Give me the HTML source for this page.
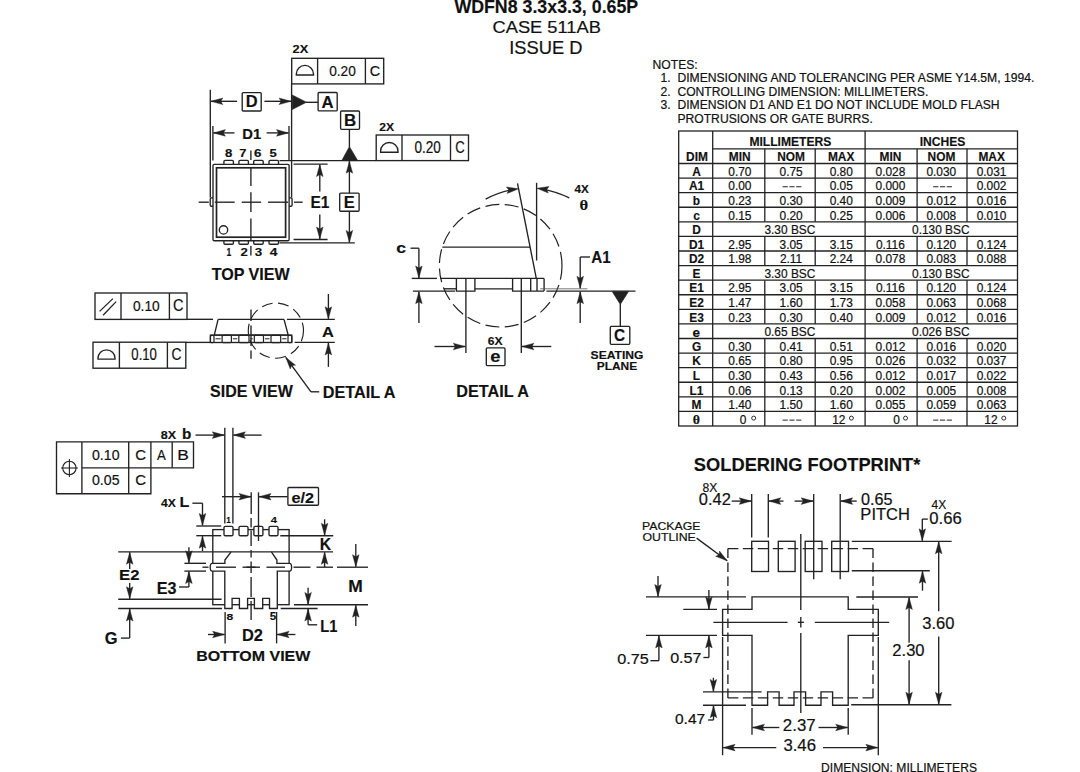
<!DOCTYPE html>
<html><head><meta charset="utf-8"><style>
html,body{margin:0;padding:0;background:#fff;width:1080px;height:772px;overflow:hidden;}
svg{display:block;}
</style></head><body>
<svg width="1080" height="772" viewBox="0 0 1080 772">
<text x="546.30" y="12.60" font-family="Liberation Sans, sans-serif" font-size="17.8" font-weight="bold" text-anchor="middle" fill="#111" stroke="#111" stroke-width="0.15">WDFN8 3.3x3.3, 0.65P</text>
<text x="492.49" y="33.43" font-family="Liberation Sans, sans-serif" font-size="17.18" text-anchor="start" fill="#111" stroke="#111" stroke-width="0.2" textLength="108.41" lengthAdjust="spacingAndGlyphs">CASE 511AB</text>
<text x="509.25" y="54.42" font-family="Liberation Sans, sans-serif" font-size="18.03" text-anchor="start" fill="#111" stroke="#111" stroke-width="0.2" textLength="73.19" lengthAdjust="spacingAndGlyphs">ISSUE D</text>
<text x="652.50" y="68.90" font-family="Liberation Sans, sans-serif" font-size="12.15" text-anchor="start" fill="#111" stroke="#111" stroke-width="0.2">NOTES:</text>
<text x="660.50" y="82.20" font-family="Liberation Sans, sans-serif" font-size="12.15" text-anchor="start" fill="#111" stroke="#111" stroke-width="0.2">1.</text>
<text x="677.40" y="82.20" font-family="Liberation Sans, sans-serif" font-size="12.15" text-anchor="start" fill="#111" stroke="#111" stroke-width="0.2">DIMENSIONING AND TOLERANCING PER ASME Y14.5M, 1994.</text>
<text x="660.50" y="95.70" font-family="Liberation Sans, sans-serif" font-size="12.15" text-anchor="start" fill="#111" stroke="#111" stroke-width="0.2">2.</text>
<text x="677.40" y="95.70" font-family="Liberation Sans, sans-serif" font-size="12.15" text-anchor="start" fill="#111" stroke="#111" stroke-width="0.2">CONTROLLING DIMENSION: MILLIMETERS.</text>
<text x="660.50" y="109.10" font-family="Liberation Sans, sans-serif" font-size="12.15" text-anchor="start" fill="#111" stroke="#111" stroke-width="0.2">3.</text>
<text x="677.40" y="109.10" font-family="Liberation Sans, sans-serif" font-size="12.15" text-anchor="start" fill="#111" stroke="#111" stroke-width="0.2">DIMENSION D1 AND E1 DO NOT INCLUDE MOLD FLASH</text>
<text x="677.40" y="122.50" font-family="Liberation Sans, sans-serif" font-size="12.15" text-anchor="start" fill="#111" stroke="#111" stroke-width="0.2">PROTRUSIONS OR GATE BURRS.</text>
<rect x="678.70" y="131.00" width="338.80" height="295.00" fill="none" stroke="#222" stroke-width="1.3"/>
<line x1="712.70" y1="131.00" x2="712.70" y2="426.00" stroke="#222" stroke-width="1.3"/>
<line x1="865.10" y1="131.00" x2="865.10" y2="426.00" stroke="#222" stroke-width="1.3"/>
<line x1="712.70" y1="148.80" x2="1017.50" y2="148.80" stroke="#222" stroke-width="1.3"/>
<line x1="678.70" y1="163.50" x2="1017.50" y2="163.50" stroke="#222" stroke-width="1.3"/>
<text x="790.40" y="146.30" font-family="Liberation Sans, sans-serif" font-size="12.1" font-weight="bold" text-anchor="middle" fill="#111" stroke="#111" stroke-width="0.15">MILLIMETERS</text>
<text x="942.50" y="146.30" font-family="Liberation Sans, sans-serif" font-size="12.1" font-weight="bold" text-anchor="middle" fill="#111" stroke="#111" stroke-width="0.15">INCHES</text>
<text x="697.00" y="160.80" font-family="Liberation Sans, sans-serif" font-size="11.9" font-weight="bold" text-anchor="middle" fill="#111" stroke="#111" stroke-width="0.15">DIM</text>
<text x="739.75" y="160.80" font-family="Liberation Sans, sans-serif" font-size="11.9" font-weight="bold" text-anchor="middle" fill="#111" stroke="#111" stroke-width="0.15">MIN</text>
<text x="791.00" y="160.80" font-family="Liberation Sans, sans-serif" font-size="11.9" font-weight="bold" text-anchor="middle" fill="#111" stroke="#111" stroke-width="0.15">NOM</text>
<text x="841.15" y="160.80" font-family="Liberation Sans, sans-serif" font-size="11.9" font-weight="bold" text-anchor="middle" fill="#111" stroke="#111" stroke-width="0.15">MAX</text>
<text x="890.50" y="160.80" font-family="Liberation Sans, sans-serif" font-size="11.9" font-weight="bold" text-anchor="middle" fill="#111" stroke="#111" stroke-width="0.15">MIN</text>
<text x="941.45" y="160.80" font-family="Liberation Sans, sans-serif" font-size="11.9" font-weight="bold" text-anchor="middle" fill="#111" stroke="#111" stroke-width="0.15">NOM</text>
<text x="991.65" y="160.80" font-family="Liberation Sans, sans-serif" font-size="11.9" font-weight="bold" text-anchor="middle" fill="#111" stroke="#111" stroke-width="0.15">MAX</text>
<line x1="764.80" y1="148.80" x2="764.80" y2="163.50" stroke="#222" stroke-width="1.3"/>
<line x1="815.20" y1="148.80" x2="815.20" y2="163.50" stroke="#222" stroke-width="1.3"/>
<line x1="917.10" y1="148.80" x2="917.10" y2="163.50" stroke="#222" stroke-width="1.3"/>
<line x1="967.00" y1="148.80" x2="967.00" y2="163.50" stroke="#222" stroke-width="1.3"/>
<line x1="678.70" y1="178.08" x2="1017.50" y2="178.08" stroke="#222" stroke-width="1.3"/>
<text x="696.50" y="175.80" font-family="Liberation Sans, sans-serif" font-size="11.9" font-weight="bold" text-anchor="middle" fill="#111" stroke="#111" stroke-width="0.15">A</text>
<line x1="764.80" y1="163.50" x2="764.80" y2="178.08" stroke="#222" stroke-width="1.3"/>
<line x1="815.20" y1="163.50" x2="815.20" y2="178.08" stroke="#222" stroke-width="1.3"/>
<line x1="917.10" y1="163.50" x2="917.10" y2="178.08" stroke="#222" stroke-width="1.3"/>
<line x1="967.00" y1="163.50" x2="967.00" y2="178.08" stroke="#222" stroke-width="1.3"/>
<text x="739.85" y="175.80" font-family="Liberation Sans, sans-serif" font-size="11.9" text-anchor="middle" fill="#111" stroke="#111" stroke-width="0.2">0.70</text>
<text x="791.10" y="175.80" font-family="Liberation Sans, sans-serif" font-size="11.9" text-anchor="middle" fill="#111" stroke="#111" stroke-width="0.2">0.75</text>
<text x="841.25" y="175.80" font-family="Liberation Sans, sans-serif" font-size="11.9" text-anchor="middle" fill="#111" stroke="#111" stroke-width="0.2">0.80</text>
<text x="890.40" y="175.80" font-family="Liberation Sans, sans-serif" font-size="11.9" text-anchor="middle" fill="#111" stroke="#111" stroke-width="0.2">0.028</text>
<text x="941.35" y="175.80" font-family="Liberation Sans, sans-serif" font-size="11.9" text-anchor="middle" fill="#111" stroke="#111" stroke-width="0.2">0.030</text>
<text x="991.55" y="175.80" font-family="Liberation Sans, sans-serif" font-size="11.9" text-anchor="middle" fill="#111" stroke="#111" stroke-width="0.2">0.031</text>
<line x1="678.70" y1="192.67" x2="1017.50" y2="192.67" stroke="#222" stroke-width="1.3"/>
<text x="696.50" y="190.38" font-family="Liberation Sans, sans-serif" font-size="11.9" font-weight="bold" text-anchor="middle" fill="#111" stroke="#111" stroke-width="0.15">A1</text>
<line x1="764.80" y1="178.08" x2="764.80" y2="192.67" stroke="#222" stroke-width="1.3"/>
<line x1="815.20" y1="178.08" x2="815.20" y2="192.67" stroke="#222" stroke-width="1.3"/>
<line x1="917.10" y1="178.08" x2="917.10" y2="192.67" stroke="#222" stroke-width="1.3"/>
<line x1="967.00" y1="178.08" x2="967.00" y2="192.67" stroke="#222" stroke-width="1.3"/>
<text x="739.85" y="190.38" font-family="Liberation Sans, sans-serif" font-size="11.9" text-anchor="middle" fill="#111" stroke="#111" stroke-width="0.2">0.00</text>
<line x1="782.60" y1="186.78" x2="787.80" y2="186.78" stroke="#222" stroke-width="1.0"/>
<line x1="789.40" y1="186.78" x2="794.60" y2="186.78" stroke="#222" stroke-width="1.0"/>
<line x1="796.20" y1="186.78" x2="801.40" y2="186.78" stroke="#222" stroke-width="1.0"/>
<text x="841.25" y="190.38" font-family="Liberation Sans, sans-serif" font-size="11.9" text-anchor="middle" fill="#111" stroke="#111" stroke-width="0.2">0.05</text>
<text x="890.40" y="190.38" font-family="Liberation Sans, sans-serif" font-size="11.9" text-anchor="middle" fill="#111" stroke="#111" stroke-width="0.2">0.000</text>
<line x1="933.15" y1="186.78" x2="938.35" y2="186.78" stroke="#222" stroke-width="1.0"/>
<line x1="939.95" y1="186.78" x2="945.15" y2="186.78" stroke="#222" stroke-width="1.0"/>
<line x1="946.75" y1="186.78" x2="951.95" y2="186.78" stroke="#222" stroke-width="1.0"/>
<text x="991.55" y="190.38" font-family="Liberation Sans, sans-serif" font-size="11.9" text-anchor="middle" fill="#111" stroke="#111" stroke-width="0.2">0.002</text>
<line x1="678.70" y1="207.25" x2="1017.50" y2="207.25" stroke="#222" stroke-width="1.3"/>
<text x="696.50" y="204.97" font-family="Liberation Sans, sans-serif" font-size="11.9" font-weight="bold" text-anchor="middle" fill="#111" stroke="#111" stroke-width="0.15">b</text>
<line x1="764.80" y1="192.67" x2="764.80" y2="207.25" stroke="#222" stroke-width="1.3"/>
<line x1="815.20" y1="192.67" x2="815.20" y2="207.25" stroke="#222" stroke-width="1.3"/>
<line x1="917.10" y1="192.67" x2="917.10" y2="207.25" stroke="#222" stroke-width="1.3"/>
<line x1="967.00" y1="192.67" x2="967.00" y2="207.25" stroke="#222" stroke-width="1.3"/>
<text x="739.85" y="204.97" font-family="Liberation Sans, sans-serif" font-size="11.9" text-anchor="middle" fill="#111" stroke="#111" stroke-width="0.2">0.23</text>
<text x="791.10" y="204.97" font-family="Liberation Sans, sans-serif" font-size="11.9" text-anchor="middle" fill="#111" stroke="#111" stroke-width="0.2">0.30</text>
<text x="841.25" y="204.97" font-family="Liberation Sans, sans-serif" font-size="11.9" text-anchor="middle" fill="#111" stroke="#111" stroke-width="0.2">0.40</text>
<text x="890.40" y="204.97" font-family="Liberation Sans, sans-serif" font-size="11.9" text-anchor="middle" fill="#111" stroke="#111" stroke-width="0.2">0.009</text>
<text x="941.35" y="204.97" font-family="Liberation Sans, sans-serif" font-size="11.9" text-anchor="middle" fill="#111" stroke="#111" stroke-width="0.2">0.012</text>
<text x="991.55" y="204.97" font-family="Liberation Sans, sans-serif" font-size="11.9" text-anchor="middle" fill="#111" stroke="#111" stroke-width="0.2">0.016</text>
<line x1="678.70" y1="221.83" x2="1017.50" y2="221.83" stroke="#222" stroke-width="1.3"/>
<text x="696.50" y="219.55" font-family="Liberation Sans, sans-serif" font-size="11.9" font-weight="bold" text-anchor="middle" fill="#111" stroke="#111" stroke-width="0.15">c</text>
<line x1="764.80" y1="207.25" x2="764.80" y2="221.83" stroke="#222" stroke-width="1.3"/>
<line x1="815.20" y1="207.25" x2="815.20" y2="221.83" stroke="#222" stroke-width="1.3"/>
<line x1="917.10" y1="207.25" x2="917.10" y2="221.83" stroke="#222" stroke-width="1.3"/>
<line x1="967.00" y1="207.25" x2="967.00" y2="221.83" stroke="#222" stroke-width="1.3"/>
<text x="739.85" y="219.55" font-family="Liberation Sans, sans-serif" font-size="11.9" text-anchor="middle" fill="#111" stroke="#111" stroke-width="0.2">0.15</text>
<text x="791.10" y="219.55" font-family="Liberation Sans, sans-serif" font-size="11.9" text-anchor="middle" fill="#111" stroke="#111" stroke-width="0.2">0.20</text>
<text x="841.25" y="219.55" font-family="Liberation Sans, sans-serif" font-size="11.9" text-anchor="middle" fill="#111" stroke="#111" stroke-width="0.2">0.25</text>
<text x="890.40" y="219.55" font-family="Liberation Sans, sans-serif" font-size="11.9" text-anchor="middle" fill="#111" stroke="#111" stroke-width="0.2">0.006</text>
<text x="941.35" y="219.55" font-family="Liberation Sans, sans-serif" font-size="11.9" text-anchor="middle" fill="#111" stroke="#111" stroke-width="0.2">0.008</text>
<text x="991.55" y="219.55" font-family="Liberation Sans, sans-serif" font-size="11.9" text-anchor="middle" fill="#111" stroke="#111" stroke-width="0.2">0.010</text>
<line x1="678.70" y1="236.42" x2="1017.50" y2="236.42" stroke="#222" stroke-width="1.3"/>
<text x="696.50" y="234.13" font-family="Liberation Sans, sans-serif" font-size="11.9" font-weight="bold" text-anchor="middle" fill="#111" stroke="#111" stroke-width="0.15">D</text>
<text x="789.90" y="234.13" font-family="Liberation Sans, sans-serif" font-size="11.9" text-anchor="middle" fill="#111" stroke="#111" stroke-width="0.2">3.30 BSC</text>
<text x="940.80" y="234.13" font-family="Liberation Sans, sans-serif" font-size="11.9" text-anchor="middle" fill="#111" stroke="#111" stroke-width="0.2">0.130 BSC</text>
<line x1="678.70" y1="251.00" x2="1017.50" y2="251.00" stroke="#222" stroke-width="1.3"/>
<text x="696.50" y="248.72" font-family="Liberation Sans, sans-serif" font-size="11.9" font-weight="bold" text-anchor="middle" fill="#111" stroke="#111" stroke-width="0.15">D1</text>
<line x1="764.80" y1="236.42" x2="764.80" y2="251.00" stroke="#222" stroke-width="1.3"/>
<line x1="815.20" y1="236.42" x2="815.20" y2="251.00" stroke="#222" stroke-width="1.3"/>
<line x1="917.10" y1="236.42" x2="917.10" y2="251.00" stroke="#222" stroke-width="1.3"/>
<line x1="967.00" y1="236.42" x2="967.00" y2="251.00" stroke="#222" stroke-width="1.3"/>
<text x="739.85" y="248.72" font-family="Liberation Sans, sans-serif" font-size="11.9" text-anchor="middle" fill="#111" stroke="#111" stroke-width="0.2">2.95</text>
<text x="791.10" y="248.72" font-family="Liberation Sans, sans-serif" font-size="11.9" text-anchor="middle" fill="#111" stroke="#111" stroke-width="0.2">3.05</text>
<text x="841.25" y="248.72" font-family="Liberation Sans, sans-serif" font-size="11.9" text-anchor="middle" fill="#111" stroke="#111" stroke-width="0.2">3.15</text>
<text x="890.40" y="248.72" font-family="Liberation Sans, sans-serif" font-size="11.9" text-anchor="middle" fill="#111" stroke="#111" stroke-width="0.2">0.116</text>
<text x="941.35" y="248.72" font-family="Liberation Sans, sans-serif" font-size="11.9" text-anchor="middle" fill="#111" stroke="#111" stroke-width="0.2">0.120</text>
<text x="991.55" y="248.72" font-family="Liberation Sans, sans-serif" font-size="11.9" text-anchor="middle" fill="#111" stroke="#111" stroke-width="0.2">0.124</text>
<line x1="678.70" y1="265.58" x2="1017.50" y2="265.58" stroke="#222" stroke-width="1.3"/>
<text x="696.50" y="263.30" font-family="Liberation Sans, sans-serif" font-size="11.9" font-weight="bold" text-anchor="middle" fill="#111" stroke="#111" stroke-width="0.15">D2</text>
<line x1="764.80" y1="251.00" x2="764.80" y2="265.58" stroke="#222" stroke-width="1.3"/>
<line x1="815.20" y1="251.00" x2="815.20" y2="265.58" stroke="#222" stroke-width="1.3"/>
<line x1="917.10" y1="251.00" x2="917.10" y2="265.58" stroke="#222" stroke-width="1.3"/>
<line x1="967.00" y1="251.00" x2="967.00" y2="265.58" stroke="#222" stroke-width="1.3"/>
<text x="739.85" y="263.30" font-family="Liberation Sans, sans-serif" font-size="11.9" text-anchor="middle" fill="#111" stroke="#111" stroke-width="0.2">1.98</text>
<text x="791.10" y="263.30" font-family="Liberation Sans, sans-serif" font-size="11.9" text-anchor="middle" fill="#111" stroke="#111" stroke-width="0.2">2.11</text>
<text x="841.25" y="263.30" font-family="Liberation Sans, sans-serif" font-size="11.9" text-anchor="middle" fill="#111" stroke="#111" stroke-width="0.2">2.24</text>
<text x="890.40" y="263.30" font-family="Liberation Sans, sans-serif" font-size="11.9" text-anchor="middle" fill="#111" stroke="#111" stroke-width="0.2">0.078</text>
<text x="941.35" y="263.30" font-family="Liberation Sans, sans-serif" font-size="11.9" text-anchor="middle" fill="#111" stroke="#111" stroke-width="0.2">0.083</text>
<text x="991.55" y="263.30" font-family="Liberation Sans, sans-serif" font-size="11.9" text-anchor="middle" fill="#111" stroke="#111" stroke-width="0.2">0.088</text>
<line x1="678.70" y1="280.17" x2="1017.50" y2="280.17" stroke="#222" stroke-width="1.3"/>
<text x="696.50" y="277.88" font-family="Liberation Sans, sans-serif" font-size="11.9" font-weight="bold" text-anchor="middle" fill="#111" stroke="#111" stroke-width="0.15">E</text>
<text x="789.90" y="277.88" font-family="Liberation Sans, sans-serif" font-size="11.9" text-anchor="middle" fill="#111" stroke="#111" stroke-width="0.2">3.30 BSC</text>
<text x="940.80" y="277.88" font-family="Liberation Sans, sans-serif" font-size="11.9" text-anchor="middle" fill="#111" stroke="#111" stroke-width="0.2">0.130 BSC</text>
<line x1="678.70" y1="294.75" x2="1017.50" y2="294.75" stroke="#222" stroke-width="1.3"/>
<text x="696.50" y="292.47" font-family="Liberation Sans, sans-serif" font-size="11.9" font-weight="bold" text-anchor="middle" fill="#111" stroke="#111" stroke-width="0.15">E1</text>
<line x1="764.80" y1="280.17" x2="764.80" y2="294.75" stroke="#222" stroke-width="1.3"/>
<line x1="815.20" y1="280.17" x2="815.20" y2="294.75" stroke="#222" stroke-width="1.3"/>
<line x1="917.10" y1="280.17" x2="917.10" y2="294.75" stroke="#222" stroke-width="1.3"/>
<line x1="967.00" y1="280.17" x2="967.00" y2="294.75" stroke="#222" stroke-width="1.3"/>
<text x="739.85" y="292.47" font-family="Liberation Sans, sans-serif" font-size="11.9" text-anchor="middle" fill="#111" stroke="#111" stroke-width="0.2">2.95</text>
<text x="791.10" y="292.47" font-family="Liberation Sans, sans-serif" font-size="11.9" text-anchor="middle" fill="#111" stroke="#111" stroke-width="0.2">3.05</text>
<text x="841.25" y="292.47" font-family="Liberation Sans, sans-serif" font-size="11.9" text-anchor="middle" fill="#111" stroke="#111" stroke-width="0.2">3.15</text>
<text x="890.40" y="292.47" font-family="Liberation Sans, sans-serif" font-size="11.9" text-anchor="middle" fill="#111" stroke="#111" stroke-width="0.2">0.116</text>
<text x="941.35" y="292.47" font-family="Liberation Sans, sans-serif" font-size="11.9" text-anchor="middle" fill="#111" stroke="#111" stroke-width="0.2">0.120</text>
<text x="991.55" y="292.47" font-family="Liberation Sans, sans-serif" font-size="11.9" text-anchor="middle" fill="#111" stroke="#111" stroke-width="0.2">0.124</text>
<line x1="678.70" y1="309.33" x2="1017.50" y2="309.33" stroke="#222" stroke-width="1.3"/>
<text x="696.50" y="307.05" font-family="Liberation Sans, sans-serif" font-size="11.9" font-weight="bold" text-anchor="middle" fill="#111" stroke="#111" stroke-width="0.15">E2</text>
<line x1="764.80" y1="294.75" x2="764.80" y2="309.33" stroke="#222" stroke-width="1.3"/>
<line x1="815.20" y1="294.75" x2="815.20" y2="309.33" stroke="#222" stroke-width="1.3"/>
<line x1="917.10" y1="294.75" x2="917.10" y2="309.33" stroke="#222" stroke-width="1.3"/>
<line x1="967.00" y1="294.75" x2="967.00" y2="309.33" stroke="#222" stroke-width="1.3"/>
<text x="739.85" y="307.05" font-family="Liberation Sans, sans-serif" font-size="11.9" text-anchor="middle" fill="#111" stroke="#111" stroke-width="0.2">1.47</text>
<text x="791.10" y="307.05" font-family="Liberation Sans, sans-serif" font-size="11.9" text-anchor="middle" fill="#111" stroke="#111" stroke-width="0.2">1.60</text>
<text x="841.25" y="307.05" font-family="Liberation Sans, sans-serif" font-size="11.9" text-anchor="middle" fill="#111" stroke="#111" stroke-width="0.2">1.73</text>
<text x="890.40" y="307.05" font-family="Liberation Sans, sans-serif" font-size="11.9" text-anchor="middle" fill="#111" stroke="#111" stroke-width="0.2">0.058</text>
<text x="941.35" y="307.05" font-family="Liberation Sans, sans-serif" font-size="11.9" text-anchor="middle" fill="#111" stroke="#111" stroke-width="0.2">0.063</text>
<text x="991.55" y="307.05" font-family="Liberation Sans, sans-serif" font-size="11.9" text-anchor="middle" fill="#111" stroke="#111" stroke-width="0.2">0.068</text>
<line x1="678.70" y1="323.92" x2="1017.50" y2="323.92" stroke="#222" stroke-width="1.3"/>
<text x="696.50" y="321.63" font-family="Liberation Sans, sans-serif" font-size="11.9" font-weight="bold" text-anchor="middle" fill="#111" stroke="#111" stroke-width="0.15">E3</text>
<line x1="764.80" y1="309.33" x2="764.80" y2="323.92" stroke="#222" stroke-width="1.3"/>
<line x1="815.20" y1="309.33" x2="815.20" y2="323.92" stroke="#222" stroke-width="1.3"/>
<line x1="917.10" y1="309.33" x2="917.10" y2="323.92" stroke="#222" stroke-width="1.3"/>
<line x1="967.00" y1="309.33" x2="967.00" y2="323.92" stroke="#222" stroke-width="1.3"/>
<text x="739.85" y="321.63" font-family="Liberation Sans, sans-serif" font-size="11.9" text-anchor="middle" fill="#111" stroke="#111" stroke-width="0.2">0.23</text>
<text x="791.10" y="321.63" font-family="Liberation Sans, sans-serif" font-size="11.9" text-anchor="middle" fill="#111" stroke="#111" stroke-width="0.2">0.30</text>
<text x="841.25" y="321.63" font-family="Liberation Sans, sans-serif" font-size="11.9" text-anchor="middle" fill="#111" stroke="#111" stroke-width="0.2">0.40</text>
<text x="890.40" y="321.63" font-family="Liberation Sans, sans-serif" font-size="11.9" text-anchor="middle" fill="#111" stroke="#111" stroke-width="0.2">0.009</text>
<text x="941.35" y="321.63" font-family="Liberation Sans, sans-serif" font-size="11.9" text-anchor="middle" fill="#111" stroke="#111" stroke-width="0.2">0.012</text>
<text x="991.55" y="321.63" font-family="Liberation Sans, sans-serif" font-size="11.9" text-anchor="middle" fill="#111" stroke="#111" stroke-width="0.2">0.016</text>
<line x1="678.70" y1="338.50" x2="1017.50" y2="338.50" stroke="#222" stroke-width="1.3"/>
<text x="692.56" y="336.77" font-family="Liberation Sans, sans-serif" font-size="12.73" font-weight="bold" text-anchor="start" fill="#111" stroke="#111" stroke-width="0.15" textLength="7.53" lengthAdjust="spacingAndGlyphs">e</text>
<text x="789.90" y="336.22" font-family="Liberation Sans, sans-serif" font-size="11.9" text-anchor="middle" fill="#111" stroke="#111" stroke-width="0.2">0.65 BSC</text>
<text x="940.80" y="336.22" font-family="Liberation Sans, sans-serif" font-size="11.9" text-anchor="middle" fill="#111" stroke="#111" stroke-width="0.2">0.026 BSC</text>
<line x1="678.70" y1="353.08" x2="1017.50" y2="353.08" stroke="#222" stroke-width="1.3"/>
<text x="696.50" y="350.80" font-family="Liberation Sans, sans-serif" font-size="11.9" font-weight="bold" text-anchor="middle" fill="#111" stroke="#111" stroke-width="0.15">G</text>
<line x1="764.80" y1="338.50" x2="764.80" y2="353.08" stroke="#222" stroke-width="1.3"/>
<line x1="815.20" y1="338.50" x2="815.20" y2="353.08" stroke="#222" stroke-width="1.3"/>
<line x1="917.10" y1="338.50" x2="917.10" y2="353.08" stroke="#222" stroke-width="1.3"/>
<line x1="967.00" y1="338.50" x2="967.00" y2="353.08" stroke="#222" stroke-width="1.3"/>
<text x="739.85" y="350.80" font-family="Liberation Sans, sans-serif" font-size="11.9" text-anchor="middle" fill="#111" stroke="#111" stroke-width="0.2">0.30</text>
<text x="791.10" y="350.80" font-family="Liberation Sans, sans-serif" font-size="11.9" text-anchor="middle" fill="#111" stroke="#111" stroke-width="0.2">0.41</text>
<text x="841.25" y="350.80" font-family="Liberation Sans, sans-serif" font-size="11.9" text-anchor="middle" fill="#111" stroke="#111" stroke-width="0.2">0.51</text>
<text x="890.40" y="350.80" font-family="Liberation Sans, sans-serif" font-size="11.9" text-anchor="middle" fill="#111" stroke="#111" stroke-width="0.2">0.012</text>
<text x="941.35" y="350.80" font-family="Liberation Sans, sans-serif" font-size="11.9" text-anchor="middle" fill="#111" stroke="#111" stroke-width="0.2">0.016</text>
<text x="991.55" y="350.80" font-family="Liberation Sans, sans-serif" font-size="11.9" text-anchor="middle" fill="#111" stroke="#111" stroke-width="0.2">0.020</text>
<line x1="678.70" y1="367.67" x2="1017.50" y2="367.67" stroke="#222" stroke-width="1.3"/>
<text x="696.50" y="365.38" font-family="Liberation Sans, sans-serif" font-size="11.9" font-weight="bold" text-anchor="middle" fill="#111" stroke="#111" stroke-width="0.15">K</text>
<line x1="764.80" y1="353.08" x2="764.80" y2="367.67" stroke="#222" stroke-width="1.3"/>
<line x1="815.20" y1="353.08" x2="815.20" y2="367.67" stroke="#222" stroke-width="1.3"/>
<line x1="917.10" y1="353.08" x2="917.10" y2="367.67" stroke="#222" stroke-width="1.3"/>
<line x1="967.00" y1="353.08" x2="967.00" y2="367.67" stroke="#222" stroke-width="1.3"/>
<text x="739.85" y="365.38" font-family="Liberation Sans, sans-serif" font-size="11.9" text-anchor="middle" fill="#111" stroke="#111" stroke-width="0.2">0.65</text>
<text x="791.10" y="365.38" font-family="Liberation Sans, sans-serif" font-size="11.9" text-anchor="middle" fill="#111" stroke="#111" stroke-width="0.2">0.80</text>
<text x="841.25" y="365.38" font-family="Liberation Sans, sans-serif" font-size="11.9" text-anchor="middle" fill="#111" stroke="#111" stroke-width="0.2">0.95</text>
<text x="890.40" y="365.38" font-family="Liberation Sans, sans-serif" font-size="11.9" text-anchor="middle" fill="#111" stroke="#111" stroke-width="0.2">0.026</text>
<text x="941.35" y="365.38" font-family="Liberation Sans, sans-serif" font-size="11.9" text-anchor="middle" fill="#111" stroke="#111" stroke-width="0.2">0.032</text>
<text x="991.55" y="365.38" font-family="Liberation Sans, sans-serif" font-size="11.9" text-anchor="middle" fill="#111" stroke="#111" stroke-width="0.2">0.037</text>
<line x1="678.70" y1="382.25" x2="1017.50" y2="382.25" stroke="#222" stroke-width="1.3"/>
<text x="696.50" y="379.97" font-family="Liberation Sans, sans-serif" font-size="11.9" font-weight="bold" text-anchor="middle" fill="#111" stroke="#111" stroke-width="0.15">L</text>
<line x1="764.80" y1="367.67" x2="764.80" y2="382.25" stroke="#222" stroke-width="1.3"/>
<line x1="815.20" y1="367.67" x2="815.20" y2="382.25" stroke="#222" stroke-width="1.3"/>
<line x1="917.10" y1="367.67" x2="917.10" y2="382.25" stroke="#222" stroke-width="1.3"/>
<line x1="967.00" y1="367.67" x2="967.00" y2="382.25" stroke="#222" stroke-width="1.3"/>
<text x="739.85" y="379.97" font-family="Liberation Sans, sans-serif" font-size="11.9" text-anchor="middle" fill="#111" stroke="#111" stroke-width="0.2">0.30</text>
<text x="791.10" y="379.97" font-family="Liberation Sans, sans-serif" font-size="11.9" text-anchor="middle" fill="#111" stroke="#111" stroke-width="0.2">0.43</text>
<text x="841.25" y="379.97" font-family="Liberation Sans, sans-serif" font-size="11.9" text-anchor="middle" fill="#111" stroke="#111" stroke-width="0.2">0.56</text>
<text x="890.40" y="379.97" font-family="Liberation Sans, sans-serif" font-size="11.9" text-anchor="middle" fill="#111" stroke="#111" stroke-width="0.2">0.012</text>
<text x="941.35" y="379.97" font-family="Liberation Sans, sans-serif" font-size="11.9" text-anchor="middle" fill="#111" stroke="#111" stroke-width="0.2">0.017</text>
<text x="991.55" y="379.97" font-family="Liberation Sans, sans-serif" font-size="11.9" text-anchor="middle" fill="#111" stroke="#111" stroke-width="0.2">0.022</text>
<line x1="678.70" y1="396.83" x2="1017.50" y2="396.83" stroke="#222" stroke-width="1.3"/>
<text x="696.50" y="394.55" font-family="Liberation Sans, sans-serif" font-size="11.9" font-weight="bold" text-anchor="middle" fill="#111" stroke="#111" stroke-width="0.15">L1</text>
<line x1="764.80" y1="382.25" x2="764.80" y2="396.83" stroke="#222" stroke-width="1.3"/>
<line x1="815.20" y1="382.25" x2="815.20" y2="396.83" stroke="#222" stroke-width="1.3"/>
<line x1="917.10" y1="382.25" x2="917.10" y2="396.83" stroke="#222" stroke-width="1.3"/>
<line x1="967.00" y1="382.25" x2="967.00" y2="396.83" stroke="#222" stroke-width="1.3"/>
<text x="739.85" y="394.55" font-family="Liberation Sans, sans-serif" font-size="11.9" text-anchor="middle" fill="#111" stroke="#111" stroke-width="0.2">0.06</text>
<text x="791.10" y="394.55" font-family="Liberation Sans, sans-serif" font-size="11.9" text-anchor="middle" fill="#111" stroke="#111" stroke-width="0.2">0.13</text>
<text x="841.25" y="394.55" font-family="Liberation Sans, sans-serif" font-size="11.9" text-anchor="middle" fill="#111" stroke="#111" stroke-width="0.2">0.20</text>
<text x="890.40" y="394.55" font-family="Liberation Sans, sans-serif" font-size="11.9" text-anchor="middle" fill="#111" stroke="#111" stroke-width="0.2">0.002</text>
<text x="941.35" y="394.55" font-family="Liberation Sans, sans-serif" font-size="11.9" text-anchor="middle" fill="#111" stroke="#111" stroke-width="0.2">0.005</text>
<text x="991.55" y="394.55" font-family="Liberation Sans, sans-serif" font-size="11.9" text-anchor="middle" fill="#111" stroke="#111" stroke-width="0.2">0.008</text>
<line x1="678.70" y1="411.42" x2="1017.50" y2="411.42" stroke="#222" stroke-width="1.3"/>
<text x="696.50" y="409.13" font-family="Liberation Sans, sans-serif" font-size="11.9" font-weight="bold" text-anchor="middle" fill="#111" stroke="#111" stroke-width="0.15">M</text>
<line x1="764.80" y1="396.83" x2="764.80" y2="411.42" stroke="#222" stroke-width="1.3"/>
<line x1="815.20" y1="396.83" x2="815.20" y2="411.42" stroke="#222" stroke-width="1.3"/>
<line x1="917.10" y1="396.83" x2="917.10" y2="411.42" stroke="#222" stroke-width="1.3"/>
<line x1="967.00" y1="396.83" x2="967.00" y2="411.42" stroke="#222" stroke-width="1.3"/>
<text x="739.85" y="409.13" font-family="Liberation Sans, sans-serif" font-size="11.9" text-anchor="middle" fill="#111" stroke="#111" stroke-width="0.2">1.40</text>
<text x="791.10" y="409.13" font-family="Liberation Sans, sans-serif" font-size="11.9" text-anchor="middle" fill="#111" stroke="#111" stroke-width="0.2">1.50</text>
<text x="841.25" y="409.13" font-family="Liberation Sans, sans-serif" font-size="11.9" text-anchor="middle" fill="#111" stroke="#111" stroke-width="0.2">1.60</text>
<text x="890.40" y="409.13" font-family="Liberation Sans, sans-serif" font-size="11.9" text-anchor="middle" fill="#111" stroke="#111" stroke-width="0.2">0.055</text>
<text x="941.35" y="409.13" font-family="Liberation Sans, sans-serif" font-size="11.9" text-anchor="middle" fill="#111" stroke="#111" stroke-width="0.2">0.059</text>
<text x="991.55" y="409.13" font-family="Liberation Sans, sans-serif" font-size="11.9" text-anchor="middle" fill="#111" stroke="#111" stroke-width="0.2">0.063</text>
<text x="692.65" y="423.79" font-family="Liberation Serif, sans-serif" font-size="11.41" font-weight="bold" text-anchor="start" fill="#111" stroke="#111" stroke-width="0.15" textLength="7.24" lengthAdjust="spacingAndGlyphs">&#952;</text>
<line x1="764.80" y1="411.42" x2="764.80" y2="426.00" stroke="#222" stroke-width="1.3"/>
<line x1="815.20" y1="411.42" x2="815.20" y2="426.00" stroke="#222" stroke-width="1.3"/>
<line x1="917.10" y1="411.42" x2="917.10" y2="426.00" stroke="#222" stroke-width="1.3"/>
<line x1="967.00" y1="411.42" x2="967.00" y2="426.00" stroke="#222" stroke-width="1.3"/>
<text x="746.40" y="423.72" font-family="Liberation Sans, sans-serif" font-size="11.9" text-anchor="end" fill="#111" stroke="#111" stroke-width="0.2">0</text>
<circle cx="753.70" cy="418.12" r="2.00" fill="none" stroke="#222" stroke-width="0.95"/>
<line x1="782.60" y1="420.12" x2="787.80" y2="420.12" stroke="#222" stroke-width="1.0"/>
<line x1="789.40" y1="420.12" x2="794.60" y2="420.12" stroke="#222" stroke-width="1.0"/>
<line x1="796.20" y1="420.12" x2="801.40" y2="420.12" stroke="#222" stroke-width="1.0"/>
<text x="845.40" y="423.72" font-family="Liberation Sans, sans-serif" font-size="11.9" text-anchor="end" fill="#111" stroke="#111" stroke-width="0.2">12</text>
<circle cx="851.40" cy="418.12" r="2.00" fill="none" stroke="#222" stroke-width="0.95"/>
<text x="899.90" y="423.72" font-family="Liberation Sans, sans-serif" font-size="11.9" text-anchor="end" fill="#111" stroke="#111" stroke-width="0.2">0</text>
<circle cx="905.50" cy="418.12" r="2.00" fill="none" stroke="#222" stroke-width="0.95"/>
<line x1="933.15" y1="420.12" x2="938.35" y2="420.12" stroke="#222" stroke-width="1.0"/>
<line x1="939.95" y1="420.12" x2="945.15" y2="420.12" stroke="#222" stroke-width="1.0"/>
<line x1="946.75" y1="420.12" x2="951.95" y2="420.12" stroke="#222" stroke-width="1.0"/>
<text x="997.50" y="423.72" font-family="Liberation Sans, sans-serif" font-size="11.9" text-anchor="end" fill="#111" stroke="#111" stroke-width="0.2">12</text>
<circle cx="1003.80" cy="418.12" r="2.00" fill="none" stroke="#222" stroke-width="0.95"/>
<rect x="291.70" y="58.30" width="92.00" height="25.60" fill="none" stroke="#222" stroke-width="1.35"/>
<line x1="317.60" y1="58.30" x2="317.60" y2="83.90" stroke="#222" stroke-width="1.35"/>
<line x1="365.40" y1="58.30" x2="365.40" y2="83.90" stroke="#222" stroke-width="1.35"/>
<path d="M296.30,75.00 V74.00 A8.60,8.60 0 0 1 313.50,74.00 V75.00 Z" fill="none" stroke="#222" stroke-width="1.35"/>
<text x="329.15" y="76.25" font-family="Liberation Sans, sans-serif" font-size="15.21" text-anchor="start" fill="#111" stroke="#111" stroke-width="0.2" textLength="26.61" lengthAdjust="spacingAndGlyphs">0.20</text>
<text x="369.78" y="76.25" font-family="Liberation Sans, sans-serif" font-size="15.21" text-anchor="start" fill="#111" stroke="#111" stroke-width="0.2" textLength="10.43" lengthAdjust="spacingAndGlyphs">C</text>
<text x="292.55" y="52.80" font-family="Liberation Sans, sans-serif" font-size="10.71" font-weight="bold" text-anchor="start" fill="#111" stroke="#111" stroke-width="0.15" textLength="15.62" lengthAdjust="spacingAndGlyphs">2X</text>
<line x1="210.30" y1="89.80" x2="210.30" y2="197.50" stroke="#222" stroke-width="1.35"/>
<line x1="291.60" y1="83.90" x2="291.60" y2="197.50" stroke="#222" stroke-width="1.35"/>
<line x1="237.10" y1="101.30" x2="210.80" y2="101.30" stroke="#222" stroke-width="1.35"/>
<polygon points="210.80,101.30 222.80,98.00 220.80,101.30 222.80,104.60" fill="#222" stroke="#222" stroke-width="0.4"/>
<line x1="264.40" y1="101.30" x2="291.10" y2="101.30" stroke="#222" stroke-width="1.35"/>
<polygon points="291.10,101.30 279.10,104.60 281.10,101.30 279.10,98.00" fill="#222" stroke="#222" stroke-width="0.4"/>
<rect x="242.20" y="92.60" width="19.00" height="18.40" fill="none" stroke="#222" stroke-width="1.35" rx="1.0"/>
<text x="245.73" y="107.40" font-family="Liberation Sans, sans-serif" font-size="15.94" font-weight="bold" text-anchor="start" fill="#111" stroke="#111" stroke-width="0.15" textLength="11.86" lengthAdjust="spacingAndGlyphs">D</text>
<polygon points="292.20,95.00 306.50,102.20 292.20,109.50" fill="#222" stroke="#222" stroke-width="0.6" stroke-linejoin="miter"/>
<line x1="306.00" y1="102.30" x2="318.10" y2="102.30" stroke="#222" stroke-width="1.35"/>
<rect x="318.10" y="92.50" width="19.10" height="18.40" fill="none" stroke="#222" stroke-width="1.35" rx="1.0"/>
<text x="321.48" y="107.80" font-family="Liberation Sans, sans-serif" font-size="17.25" font-weight="bold" text-anchor="start" fill="#111" stroke="#111" stroke-width="0.15" textLength="12.07" lengthAdjust="spacingAndGlyphs">A</text>
<line x1="212.90" y1="125.90" x2="212.90" y2="160.40" stroke="#222" stroke-width="1.35"/>
<line x1="289.00" y1="125.90" x2="289.00" y2="160.40" stroke="#222" stroke-width="1.35"/>
<line x1="234.50" y1="132.90" x2="213.40" y2="132.90" stroke="#222" stroke-width="1.35"/>
<polygon points="213.40,132.90 225.40,129.60 223.40,132.90 225.40,136.20" fill="#222" stroke="#222" stroke-width="0.4"/>
<line x1="266.60" y1="132.90" x2="288.50" y2="132.90" stroke="#222" stroke-width="1.35"/>
<polygon points="288.50,132.90 276.50,136.20 278.50,132.90 276.50,129.60" fill="#222" stroke="#222" stroke-width="0.4"/>
<text x="242.34" y="138.70" font-family="Liberation Sans, sans-serif" font-size="15.36" font-weight="bold" text-anchor="start" fill="#111" stroke="#111" stroke-width="0.15" textLength="18.88" lengthAdjust="spacingAndGlyphs">D1</text>
<rect x="340.60" y="111.00" width="18.90" height="18.30" fill="none" stroke="#222" stroke-width="1.35" rx="1.0"/>
<text x="343.90" y="125.70" font-family="Liberation Sans, sans-serif" font-size="15.8" font-weight="bold" text-anchor="start" fill="#111" stroke="#111" stroke-width="0.15" textLength="12.19" lengthAdjust="spacingAndGlyphs">B</text>
<line x1="349.40" y1="129.20" x2="349.40" y2="147.00" stroke="#222" stroke-width="1.35"/>
<polygon points="341.80,160.60 349.40,146.60 357.70,160.60" fill="#222" stroke="#222" stroke-width="0.6" stroke-linejoin="miter"/>
<line x1="279.50" y1="160.60" x2="376.20" y2="160.60" stroke="#222" stroke-width="1.35"/>
<rect x="376.20" y="135.00" width="92.30" height="25.60" fill="none" stroke="#222" stroke-width="1.35"/>
<line x1="402.00" y1="135.00" x2="402.00" y2="160.60" stroke="#222" stroke-width="1.35"/>
<line x1="450.50" y1="135.00" x2="450.50" y2="160.60" stroke="#222" stroke-width="1.35"/>
<path d="M380.60,152.20 V151.20 A8.70,8.70 0 0 1 398.00,151.20 V152.20 Z" fill="none" stroke="#222" stroke-width="1.35"/>
<text x="414.56" y="152.74" font-family="Liberation Sans, sans-serif" font-size="15.63" text-anchor="start" fill="#111" stroke="#111" stroke-width="0.2" textLength="26.30" lengthAdjust="spacingAndGlyphs">0.20</text>
<text x="455.24" y="152.74" font-family="Liberation Sans, sans-serif" font-size="15.63" text-anchor="start" fill="#111" stroke="#111" stroke-width="0.2" textLength="9.51" lengthAdjust="spacingAndGlyphs">C</text>
<text x="379.28" y="130.80" font-family="Liberation Sans, sans-serif" font-size="11.71" font-weight="bold" text-anchor="start" fill="#111" stroke="#111" stroke-width="0.15" textLength="14.78" lengthAdjust="spacingAndGlyphs">2X</text>
<line x1="293.60" y1="164.10" x2="327.60" y2="164.10" stroke="#222" stroke-width="1.35"/>
<line x1="293.60" y1="239.50" x2="327.60" y2="239.50" stroke="#222" stroke-width="1.35"/>
<line x1="319.80" y1="191.50" x2="319.80" y2="164.60" stroke="#222" stroke-width="1.35"/>
<polygon points="319.80,164.60 323.10,176.60 319.80,174.60 316.50,176.60" fill="#222" stroke="#222" stroke-width="0.4"/>
<line x1="319.80" y1="214.50" x2="319.80" y2="239.00" stroke="#222" stroke-width="1.35"/>
<polygon points="319.80,239.00 316.50,227.00 319.80,229.00 323.10,227.00" fill="#222" stroke="#222" stroke-width="0.4"/>
<text x="310.49" y="208.00" font-family="Liberation Sans, sans-serif" font-size="16.81" font-weight="bold" text-anchor="start" fill="#111" stroke="#111" stroke-width="0.15" textLength="18.94" lengthAdjust="spacingAndGlyphs">E1</text>
<line x1="349.40" y1="193.30" x2="349.40" y2="161.20" stroke="#222" stroke-width="1.35"/>
<polygon points="349.40,161.20 352.70,173.20 349.40,171.20 346.10,173.20" fill="#222" stroke="#222" stroke-width="0.4"/>
<line x1="349.40" y1="211.20" x2="349.40" y2="242.40" stroke="#222" stroke-width="1.35"/>
<polygon points="349.40,242.40 346.10,230.40 349.40,232.40 352.70,230.40" fill="#222" stroke="#222" stroke-width="0.4"/>
<rect x="339.70" y="193.10" width="19.40" height="18.10" fill="none" stroke="#222" stroke-width="1.35" rx="1.0"/>
<text x="343.73" y="208.10" font-family="Liberation Sans, sans-serif" font-size="16.67" font-weight="bold" text-anchor="start" fill="#111" stroke="#111" stroke-width="0.15" textLength="10.98" lengthAdjust="spacingAndGlyphs">E</text>
<line x1="279.50" y1="242.90" x2="354.80" y2="242.90" stroke="#222" stroke-width="1.35"/>
<path d="M223.90,164.3 V161.6 Q223.90,160.4 225.10,160.4 H232.20 Q233.40,160.4 233.40,161.6 V164.3" fill="none" stroke="#222" stroke-width="1.35"/>
<path d="M223.90,240.7 V243.0 Q223.90,244.2 225.10,244.2 H232.20 Q233.40,244.2 233.40,243.0 V240.7" fill="none" stroke="#222" stroke-width="1.35"/>
<path d="M238.90,164.3 V161.6 Q238.90,160.4 240.10,160.4 H247.20 Q248.40,160.4 248.40,161.6 V164.3" fill="none" stroke="#222" stroke-width="1.35"/>
<path d="M238.90,240.7 V243.0 Q238.90,244.2 240.10,244.2 H247.20 Q248.40,244.2 248.40,243.0 V240.7" fill="none" stroke="#222" stroke-width="1.35"/>
<path d="M253.70,164.3 V161.6 Q253.70,160.4 254.90,160.4 H262.00 Q263.20,160.4 263.20,161.6 V164.3" fill="none" stroke="#222" stroke-width="1.35"/>
<path d="M253.70,240.7 V243.0 Q253.70,244.2 254.90,244.2 H262.00 Q263.20,244.2 263.20,243.0 V240.7" fill="none" stroke="#222" stroke-width="1.35"/>
<path d="M269.00,164.3 V161.6 Q269.00,160.4 270.20,160.4 H277.30 Q278.50,160.4 278.50,161.6 V164.3" fill="none" stroke="#222" stroke-width="1.35"/>
<path d="M269.00,240.7 V243.0 Q269.00,244.2 270.20,244.2 H277.30 Q278.50,244.2 278.50,243.0 V240.7" fill="none" stroke="#222" stroke-width="1.35"/>
<rect x="213.00" y="164.30" width="76.10" height="76.40" fill="none" stroke="#222" stroke-width="1.35" rx="1.2"/>
<rect x="216.50" y="167.80" width="69.10" height="69.40" fill="none" stroke="#222" stroke-width="1.7"/>
<path d="M213,197.9 H211.4 Q210.2,197.9 210.2,199.1 V205.0 Q210.2,206.2 211.4,206.2 H213" fill="none" stroke="#222" stroke-width="1.35"/>
<path d="M289.1,197.9 H290.9 Q292.1,197.9 292.1,199.1 V205.0 Q292.1,206.2 290.9,206.2 H289.1" fill="none" stroke="#222" stroke-width="1.35"/>
<circle cx="223.50" cy="229.90" r="4.20" fill="none" stroke="#222" stroke-width="1.35"/>
<line x1="198.70" y1="202.20" x2="208.80" y2="202.20" stroke="#222" stroke-width="1.35"/>
<line x1="214.80" y1="202.20" x2="234.70" y2="202.20" stroke="#222" stroke-width="1.35"/>
<line x1="241.70" y1="202.20" x2="261.10" y2="202.20" stroke="#222" stroke-width="1.35"/>
<line x1="268.00" y1="202.20" x2="288.00" y2="202.20" stroke="#222" stroke-width="1.35"/>
<line x1="294.00" y1="202.20" x2="302.70" y2="202.20" stroke="#222" stroke-width="1.35"/>
<line x1="250.90" y1="167.80" x2="250.90" y2="186.00" stroke="#222" stroke-width="1.35"/>
<line x1="250.90" y1="192.30" x2="250.90" y2="212.00" stroke="#222" stroke-width="1.35"/>
<line x1="250.90" y1="218.50" x2="250.90" y2="240.70" stroke="#222" stroke-width="1.35"/>
<line x1="250.90" y1="150.60" x2="250.90" y2="160.00" stroke="#222" stroke-width="1.35"/>
<line x1="250.90" y1="246.00" x2="250.90" y2="255.50" stroke="#222" stroke-width="1.35"/>
<text x="225.11" y="157.00" font-family="Liberation Sans, sans-serif" font-size="10.42" font-weight="bold" text-anchor="start" fill="#111" stroke="#111" stroke-width="0.15" textLength="7.30" lengthAdjust="spacingAndGlyphs">8</text>
<text x="239.22" y="157.10" font-family="Liberation Sans, sans-serif" font-size="10.72" font-weight="bold" text-anchor="start" fill="#111" stroke="#111" stroke-width="0.15" textLength="7.18" lengthAdjust="spacingAndGlyphs">7</text>
<text x="254.13" y="157.00" font-family="Liberation Sans, sans-serif" font-size="10.42" font-weight="bold" text-anchor="start" fill="#111" stroke="#111" stroke-width="0.15" textLength="7.45" lengthAdjust="spacingAndGlyphs">6</text>
<text x="269.51" y="156.99" font-family="Liberation Sans, sans-serif" font-size="10.57" font-weight="bold" text-anchor="start" fill="#111" stroke="#111" stroke-width="0.15" textLength="7.23" lengthAdjust="spacingAndGlyphs">5</text>
<text x="226.44" y="255.70" font-family="Liberation Sans, sans-serif" font-size="11.3" font-weight="bold" text-anchor="start" fill="#111" stroke="#111" stroke-width="0.15" textLength="4.78" lengthAdjust="spacingAndGlyphs">1</text>
<text x="240.54" y="255.70" font-family="Liberation Sans, sans-serif" font-size="11.14" font-weight="bold" text-anchor="start" fill="#111" stroke="#111" stroke-width="0.15" textLength="7.30" lengthAdjust="spacingAndGlyphs">2</text>
<text x="254.87" y="255.59" font-family="Liberation Sans, sans-serif" font-size="10.99" font-weight="bold" text-anchor="start" fill="#111" stroke="#111" stroke-width="0.15" textLength="7.42" lengthAdjust="spacingAndGlyphs">3</text>
<text x="269.69" y="255.70" font-family="Liberation Sans, sans-serif" font-size="11.3" font-weight="bold" text-anchor="start" fill="#111" stroke="#111" stroke-width="0.15" textLength="7.69" lengthAdjust="spacingAndGlyphs">4</text>
<text x="211.64" y="279.73" font-family="Liberation Sans, sans-serif" font-size="17.04" font-weight="bold" text-anchor="start" fill="#111" stroke="#111" stroke-width="0.15" textLength="78.01" lengthAdjust="spacingAndGlyphs">TOP VIEW</text>
<rect x="95.00" y="293.00" width="92.00" height="26.40" fill="none" stroke="#222" stroke-width="1.35"/>
<line x1="121.00" y1="293.00" x2="121.00" y2="319.40" stroke="#222" stroke-width="1.35"/>
<line x1="169.40" y1="293.00" x2="169.40" y2="319.40" stroke="#222" stroke-width="1.35"/>
<line x1="99.60" y1="311.40" x2="112.90" y2="298.60" stroke="#222" stroke-width="1.3"/>
<line x1="103.10" y1="315.20" x2="116.10" y2="301.60" stroke="#222" stroke-width="1.3"/>
<text x="132.95" y="311.25" font-family="Liberation Sans, sans-serif" font-size="15.35" text-anchor="start" fill="#111" stroke="#111" stroke-width="0.2" textLength="26.72" lengthAdjust="spacingAndGlyphs">0.10</text>
<text x="173.07" y="311.24" font-family="Liberation Sans, sans-serif" font-size="15.63" text-anchor="start" fill="#111" stroke="#111" stroke-width="0.2" textLength="10.55" lengthAdjust="spacingAndGlyphs">C</text>
<rect x="93.00" y="342.20" width="92.80" height="26.00" fill="none" stroke="#222" stroke-width="1.35"/>
<line x1="119.40" y1="342.20" x2="119.40" y2="368.20" stroke="#222" stroke-width="1.35"/>
<line x1="167.40" y1="342.20" x2="167.40" y2="368.20" stroke="#222" stroke-width="1.35"/>
<path d="M98.00,359.10 V358.30 A8.50,8.50 0 0 1 115.00,358.30 V359.10 Z" fill="none" stroke="#222" stroke-width="1.35"/>
<text x="131.37" y="360.24" font-family="Liberation Sans, sans-serif" font-size="16.06" text-anchor="start" fill="#111" stroke="#111" stroke-width="0.2" textLength="25.57" lengthAdjust="spacingAndGlyphs">0.10</text>
<text x="171.51" y="360.24" font-family="Liberation Sans, sans-serif" font-size="16.06" text-anchor="start" fill="#111" stroke="#111" stroke-width="0.2" textLength="9.97" lengthAdjust="spacingAndGlyphs">C</text>
<line x1="187.00" y1="319.30" x2="213.00" y2="319.30" stroke="#222" stroke-width="1.35"/>
<line x1="218.10" y1="319.30" x2="284.00" y2="319.30" stroke="#222" stroke-width="1.35"/>
<line x1="286.90" y1="319.30" x2="334.80" y2="319.30" stroke="#222" stroke-width="1.35"/>
<line x1="185.80" y1="342.40" x2="210.40" y2="342.40" stroke="#222" stroke-width="1.35"/>
<line x1="294.60" y1="342.40" x2="334.80" y2="342.40" stroke="#222" stroke-width="1.35"/>
<polyline points="218.10,319.30 214.30,335.10 288.20,335.10 284.00,319.30" fill="none" stroke="#222" stroke-width="1.35" stroke-linejoin="miter"/>
<rect x="210.40" y="335.10" width="81.40" height="7.40" fill="none" stroke="#222" stroke-width="1.35"/>
<rect x="210.40" y="335.30" width="3.60" height="7.30" fill="none" stroke="#222" stroke-width="1.2" rx="1.2"/>
<rect x="222.10" y="335.30" width="9.30" height="7.30" fill="none" stroke="#222" stroke-width="1.2" rx="1.2"/>
<rect x="238.80" y="335.30" width="10.20" height="7.30" fill="none" stroke="#222" stroke-width="1.2" rx="1.2"/>
<rect x="254.30" y="335.30" width="9.20" height="7.30" fill="none" stroke="#222" stroke-width="1.2" rx="1.2"/>
<rect x="271.00" y="335.30" width="9.70" height="7.30" fill="none" stroke="#222" stroke-width="1.2" rx="1.2"/>
<rect x="288.00" y="335.30" width="3.80" height="7.30" fill="none" stroke="#222" stroke-width="1.2" rx="1.2"/>
<line x1="215.50" y1="338.80" x2="220.60" y2="338.80" stroke="#222" stroke-width="1.0"/>
<line x1="232.90" y1="338.80" x2="237.30" y2="338.80" stroke="#222" stroke-width="1.0"/>
<line x1="250.50" y1="338.80" x2="252.80" y2="338.80" stroke="#222" stroke-width="1.0"/>
<line x1="265.00" y1="338.80" x2="269.50" y2="338.80" stroke="#222" stroke-width="1.0"/>
<line x1="282.20" y1="338.80" x2="286.50" y2="338.80" stroke="#222" stroke-width="1.0"/>
<circle cx="275.90" cy="330.60" r="27.60" fill="none" stroke="#222" stroke-width="1.15" stroke-dasharray="11,5.5"/>
<line x1="251.00" y1="309.40" x2="251.00" y2="321.00" stroke="#222" stroke-width="1.35"/>
<line x1="251.00" y1="325.50" x2="251.00" y2="346.00" stroke="#222" stroke-width="1.35"/>
<line x1="251.00" y1="350.50" x2="251.00" y2="358.70" stroke="#222" stroke-width="1.35"/>
<line x1="328.40" y1="294.00" x2="328.40" y2="318.80" stroke="#222" stroke-width="1.35"/>
<polygon points="328.40,318.80 325.10,306.80 328.40,308.80 331.70,306.80" fill="#222" stroke="#222" stroke-width="0.4"/>
<line x1="328.40" y1="366.90" x2="328.40" y2="343.00" stroke="#222" stroke-width="1.35"/>
<polygon points="328.40,343.00 331.70,355.00 328.40,353.00 325.10,355.00" fill="#222" stroke="#222" stroke-width="0.4"/>
<text x="322.09" y="336.70" font-family="Liberation Sans, sans-serif" font-size="15.07" font-weight="bold" text-anchor="start" fill="#111" stroke="#111" stroke-width="0.15" textLength="11.86" lengthAdjust="spacingAndGlyphs">A</text>
<line x1="311.00" y1="391.80" x2="285.80" y2="357.40" stroke="#222" stroke-width="1.35"/>
<polygon points="285.80,357.40 295.55,365.13 291.71,365.47 290.23,369.03" fill="#222" stroke="#222" stroke-width="0.4"/>
<line x1="311.00" y1="391.80" x2="319.20" y2="391.80" stroke="#222" stroke-width="1.35"/>
<text x="210.12" y="397.34" font-family="Liberation Sans, sans-serif" font-size="15.77" font-weight="bold" text-anchor="start" fill="#111" stroke="#111" stroke-width="0.15" textLength="82.62" lengthAdjust="spacingAndGlyphs">SIDE VIEW</text>
<text x="322.84" y="398.10" font-family="Liberation Sans, sans-serif" font-size="16.23" font-weight="bold" text-anchor="start" fill="#111" stroke="#111" stroke-width="0.15">DETAIL A</text>
<circle cx="500.70" cy="265.70" r="61.30" fill="none" stroke="#222" stroke-width="1.2" stroke-dasharray="14,5.5"/>
<line x1="442.30" y1="247.10" x2="530.20" y2="247.10" stroke="#222" stroke-width="1.35"/>
<line x1="517.50" y1="183.40" x2="536.30" y2="278.40" stroke="#222" stroke-width="1.35"/>
<line x1="536.60" y1="182.80" x2="536.60" y2="260.50" stroke="#222" stroke-width="1.35"/>
<line x1="440.20" y1="278.40" x2="544.10" y2="278.40" stroke="#222" stroke-width="1.35"/>
<line x1="544.10" y1="278.40" x2="544.10" y2="291.10" stroke="#222" stroke-width="1.35"/>
<polyline points="456.40,278.40 456.40,291.10 474.90,291.10 474.90,278.40" fill="none" stroke="#222" stroke-width="1.35" stroke-linejoin="miter"/>
<polyline points="512.60,278.40 512.60,291.10 544.10,291.10" fill="none" stroke="#222" stroke-width="1.35" stroke-linejoin="miter"/>
<line x1="530.70" y1="278.40" x2="530.70" y2="291.10" stroke="#222" stroke-width="1.35"/>
<line x1="537.00" y1="278.40" x2="537.00" y2="291.10" stroke="#222" stroke-width="1.35"/>
<line x1="444.00" y1="288.80" x2="456.40" y2="288.80" stroke="#222" stroke-width="1.35"/>
<line x1="474.90" y1="288.80" x2="512.60" y2="288.80" stroke="#222" stroke-width="1.35"/>
<line x1="465.90" y1="278.40" x2="465.90" y2="353.00" stroke="#222" stroke-width="1.35"/>
<line x1="521.30" y1="278.40" x2="521.30" y2="353.00" stroke="#222" stroke-width="1.35"/>
<line x1="411.70" y1="278.40" x2="437.00" y2="278.40" stroke="#222" stroke-width="1.35"/>
<line x1="412.90" y1="291.10" x2="455.00" y2="291.10" stroke="#222" stroke-width="1.35"/>
<line x1="546.50" y1="291.10" x2="635.50" y2="291.10" stroke="#222" stroke-width="1.35"/>
<line x1="540.20" y1="288.80" x2="587.40" y2="288.80" stroke="#555" stroke-width="0.8"/>
<text x="396.29" y="252.85" font-family="Liberation Sans, sans-serif" font-size="15.27" font-weight="bold" text-anchor="start" fill="#111" stroke="#111" stroke-width="0.15" textLength="9.86" lengthAdjust="spacingAndGlyphs">c</text>
<line x1="410.50" y1="248.20" x2="418.90" y2="248.20" stroke="#222" stroke-width="1.35"/>
<line x1="418.90" y1="248.20" x2="418.90" y2="278.00" stroke="#222" stroke-width="1.35"/>
<polygon points="418.90,278.00 415.60,266.00 418.90,268.00 422.20,266.00" fill="#222" stroke="#222" stroke-width="0.4"/>
<line x1="418.90" y1="323.00" x2="418.90" y2="291.70" stroke="#222" stroke-width="1.35"/>
<polygon points="418.90,291.70 422.20,303.70 418.90,301.70 415.60,303.70" fill="#222" stroke="#222" stroke-width="0.4"/>
<text x="591.32" y="262.70" font-family="Liberation Sans, sans-serif" font-size="15.8" font-weight="bold" text-anchor="start" fill="#111" stroke="#111" stroke-width="0.15" textLength="19.41" lengthAdjust="spacingAndGlyphs">A1</text>
<line x1="580.20" y1="257.00" x2="590.00" y2="257.00" stroke="#222" stroke-width="1.35"/>
<line x1="580.20" y1="257.00" x2="580.20" y2="288.30" stroke="#222" stroke-width="1.35"/>
<polygon points="580.20,288.30 576.90,276.30 580.20,278.30 583.50,276.30" fill="#222" stroke="#222" stroke-width="0.4"/>
<line x1="580.20" y1="323.00" x2="580.20" y2="291.70" stroke="#222" stroke-width="1.35"/>
<polygon points="580.20,291.70 583.50,303.70 580.20,301.70 576.90,303.70" fill="#222" stroke="#222" stroke-width="0.4"/>
<path d="M485.6,199.1 Q500,191.5 514.5,189.3" fill="none" stroke="#222" stroke-width="1.35"/>
<polygon points="518.70,188.80 507.18,193.51 508.77,189.99 506.39,186.95" fill="#222" stroke="#222" stroke-width="0.4"/>
<path d="M569.3,197.9 Q556,191.5 541,188.9" fill="none" stroke="#222" stroke-width="1.35"/>
<polygon points="536.80,188.30 549.11,186.45 546.73,189.49 548.32,193.01" fill="#222" stroke="#222" stroke-width="0.4"/>
<text x="574.53" y="193.00" font-family="Liberation Sans, sans-serif" font-size="10.43" font-weight="bold" text-anchor="start" fill="#111" stroke="#111" stroke-width="0.15" textLength="14.23" lengthAdjust="spacingAndGlyphs">4X</text>
<text x="579.44" y="210.35" font-family="Liberation Serif, sans-serif" font-size="15.21" font-weight="bold" text-anchor="start" fill="#111" stroke="#111" stroke-width="0.15" textLength="8.66" lengthAdjust="spacingAndGlyphs">&#952;</text>
<line x1="434.50" y1="346.50" x2="465.30" y2="346.50" stroke="#222" stroke-width="1.35"/>
<polygon points="465.30,346.50 453.30,349.80 455.30,346.50 453.30,343.20" fill="#222" stroke="#222" stroke-width="0.4"/>
<line x1="551.30" y1="346.50" x2="521.90" y2="346.50" stroke="#222" stroke-width="1.35"/>
<polygon points="521.90,346.50 533.90,343.20 531.90,346.50 533.90,349.80" fill="#222" stroke="#222" stroke-width="0.4"/>
<text x="487.78" y="345.08" font-family="Liberation Sans, sans-serif" font-size="11.55" font-weight="bold" text-anchor="start" fill="#111" stroke="#111" stroke-width="0.15" textLength="14.78" lengthAdjust="spacingAndGlyphs">6X</text>
<rect x="486.30" y="347.90" width="18.70" height="17.70" fill="none" stroke="#222" stroke-width="1.35" rx="1.0"/>
<text x="490.37" y="361.84" font-family="Liberation Sans, sans-serif" font-size="16.18" font-weight="bold" text-anchor="start" fill="#111" stroke="#111" stroke-width="0.15" textLength="10.20" lengthAdjust="spacingAndGlyphs">e</text>
<polygon points="612.10,291.40 628.60,291.40 620.30,304.40" fill="#222" stroke="#222" stroke-width="0.6" stroke-linejoin="miter"/>
<line x1="620.30" y1="304.00" x2="620.30" y2="326.40" stroke="#222" stroke-width="1.35"/>
<rect x="610.30" y="326.40" width="19.50" height="17.90" fill="none" stroke="#222" stroke-width="1.35" rx="1.0"/>
<text x="613.98" y="341.04" font-family="Liberation Sans, sans-serif" font-size="15.92" font-weight="bold" text-anchor="start" fill="#111" stroke="#111" stroke-width="0.15" textLength="11.14" lengthAdjust="spacingAndGlyphs">C</text>
<text x="590.64" y="359.39" font-family="Liberation Sans, sans-serif" font-size="10.85" font-weight="bold" text-anchor="start" fill="#111" stroke="#111" stroke-width="0.15" textLength="52.90" lengthAdjust="spacingAndGlyphs">SEATING</text>
<text x="596.72" y="370.40" font-family="Liberation Sans, sans-serif" font-size="11.16" font-weight="bold" text-anchor="start" fill="#111" stroke="#111" stroke-width="0.15" textLength="40.44" lengthAdjust="spacingAndGlyphs">PLANE</text>
<text x="456.35" y="397.40" font-family="Liberation Sans, sans-serif" font-size="16.67" font-weight="bold" text-anchor="start" fill="#111" stroke="#111" stroke-width="0.15" textLength="72.48" lengthAdjust="spacingAndGlyphs">DETAIL A</text>
<polygon points="56.50,441.90 193.50,441.90 193.50,467.80 150.90,467.80 150.90,493.70 56.50,493.70" fill="none" stroke="#222" stroke-width="1.35" stroke-linejoin="miter"/>
<line x1="81.90" y1="441.90" x2="81.90" y2="493.70" stroke="#222" stroke-width="1.35"/>
<line x1="128.70" y1="441.90" x2="128.70" y2="493.70" stroke="#222" stroke-width="1.35"/>
<line x1="150.90" y1="441.90" x2="150.90" y2="467.80" stroke="#222" stroke-width="1.35"/>
<line x1="172.20" y1="441.90" x2="172.20" y2="467.80" stroke="#222" stroke-width="1.35"/>
<line x1="81.90" y1="467.80" x2="150.90" y2="467.80" stroke="#222" stroke-width="1.35"/>
<circle cx="69.40" cy="468.00" r="6.70" fill="none" stroke="#222" stroke-width="1.1"/>
<line x1="61.10" y1="468.00" x2="77.80" y2="468.00" stroke="#222" stroke-width="1.1"/>
<line x1="69.40" y1="458.90" x2="69.40" y2="477.00" stroke="#222" stroke-width="1.1"/>
<text x="92.04" y="460.05" font-family="Liberation Sans, sans-serif" font-size="14.65" text-anchor="start" fill="#111" stroke="#111" stroke-width="0.2" textLength="27.45" lengthAdjust="spacingAndGlyphs">0.10</text>
<text x="135.25" y="460.05" font-family="Liberation Sans, sans-serif" font-size="14.65" text-anchor="start" fill="#111" stroke="#111" stroke-width="0.2" textLength="10.78" lengthAdjust="spacingAndGlyphs">C</text>
<text x="156.93" y="460.20" font-family="Liberation Sans, sans-serif" font-size="15.07" text-anchor="start" fill="#111" stroke="#111" stroke-width="0.2" textLength="8.79" lengthAdjust="spacingAndGlyphs">A</text>
<text x="177.31" y="460.20" font-family="Liberation Sans, sans-serif" font-size="15.07" text-anchor="start" fill="#111" stroke="#111" stroke-width="0.2" textLength="11.60" lengthAdjust="spacingAndGlyphs">B</text>
<text x="92.04" y="484.65" font-family="Liberation Sans, sans-serif" font-size="14.65" text-anchor="start" fill="#111" stroke="#111" stroke-width="0.2" textLength="27.45" lengthAdjust="spacingAndGlyphs">0.05</text>
<text x="135.25" y="484.65" font-family="Liberation Sans, sans-serif" font-size="14.65" text-anchor="start" fill="#111" stroke="#111" stroke-width="0.2" textLength="10.78" lengthAdjust="spacingAndGlyphs">C</text>
<text x="160.72" y="439.29" font-family="Liberation Sans, sans-serif" font-size="11.13" font-weight="bold" text-anchor="start" fill="#111" stroke="#111" stroke-width="0.15" textLength="15.34" lengthAdjust="spacingAndGlyphs">8X</text>
<text x="182.01" y="439.26" font-family="Liberation Sans, sans-serif" font-size="13.74" font-weight="bold" text-anchor="start" fill="#111" stroke="#111" stroke-width="0.15" textLength="9.31" lengthAdjust="spacingAndGlyphs">b</text>
<line x1="224.80" y1="427.80" x2="224.80" y2="523.40" stroke="#222" stroke-width="1.35"/>
<line x1="232.90" y1="427.80" x2="232.90" y2="523.40" stroke="#222" stroke-width="1.35"/>
<line x1="195.50" y1="435.10" x2="224.30" y2="435.10" stroke="#222" stroke-width="1.35"/>
<polygon points="224.30,435.10 212.30,438.40 214.30,435.10 212.30,431.80" fill="#222" stroke="#222" stroke-width="0.4"/>
<line x1="261.60" y1="435.10" x2="233.40" y2="435.10" stroke="#222" stroke-width="1.35"/>
<polygon points="233.40,435.10 245.40,431.80 243.40,435.10 245.40,438.40" fill="#222" stroke="#222" stroke-width="0.4"/>
<line x1="258.50" y1="492.30" x2="258.50" y2="526.00" stroke="#222" stroke-width="1.35"/>
<line x1="251.20" y1="492.30" x2="251.20" y2="514.00" stroke="#222" stroke-width="1.35"/>
<line x1="222.00" y1="496.70" x2="251.00" y2="496.70" stroke="#222" stroke-width="1.35"/>
<polygon points="251.00,496.70 239.00,500.00 241.00,496.70 239.00,493.40" fill="#222" stroke="#222" stroke-width="0.4"/>
<line x1="287.60" y1="496.70" x2="259.00" y2="496.70" stroke="#222" stroke-width="1.35"/>
<polygon points="259.00,496.70 271.00,493.40 269.00,496.70 271.00,500.00" fill="#222" stroke="#222" stroke-width="0.4"/>
<rect x="287.90" y="487.50" width="30.60" height="17.70" fill="none" stroke="#222" stroke-width="1.35" rx="1.0"/>
<text x="291.50" y="502.60" font-family="Liberation Sans, sans-serif" font-size="15.2" font-weight="bold" text-anchor="start" fill="#111" stroke="#111" stroke-width="0.15" textLength="22.60" lengthAdjust="spacingAndGlyphs">e/2</text>
<text x="160.92" y="507.40" font-family="Liberation Sans, sans-serif" font-size="11.3" font-weight="bold" text-anchor="start" fill="#111" stroke="#111" stroke-width="0.15" textLength="14.84" lengthAdjust="spacingAndGlyphs">4X</text>
<text x="179.55" y="507.40" font-family="Liberation Sans, sans-serif" font-size="15.22" font-weight="bold" text-anchor="start" fill="#111" stroke="#111" stroke-width="0.15" textLength="9.84" lengthAdjust="spacingAndGlyphs">L</text>
<line x1="192.40" y1="503.20" x2="202.50" y2="503.20" stroke="#222" stroke-width="1.35"/>
<line x1="202.50" y1="503.20" x2="202.50" y2="525.40" stroke="#222" stroke-width="1.35"/>
<polygon points="202.50,525.40 199.20,513.40 202.50,515.40 205.80,513.40" fill="#222" stroke="#222" stroke-width="0.4"/>
<line x1="202.50" y1="551.00" x2="202.50" y2="536.20" stroke="#222" stroke-width="1.35"/>
<polygon points="202.50,536.20 205.80,548.20 202.50,546.20 199.20,548.20" fill="#222" stroke="#222" stroke-width="0.4"/>
<line x1="196.30" y1="526.00" x2="221.20" y2="526.00" stroke="#222" stroke-width="1.35"/>
<line x1="196.30" y1="535.70" x2="221.20" y2="535.70" stroke="#222" stroke-width="1.35"/>
<rect x="212.80" y="529.60" width="76.30" height="75.10" fill="none" stroke="#222" stroke-width="1.35"/>
<rect x="224.00" y="526.30" width="9.00" height="9.40" fill="#fff" stroke="#222" stroke-width="1.35" rx="1.3"/>
<rect x="239.00" y="526.30" width="9.00" height="9.40" fill="#fff" stroke="#222" stroke-width="1.35" rx="1.3"/>
<rect x="253.90" y="526.30" width="9.00" height="9.40" fill="#fff" stroke="#222" stroke-width="1.35" rx="1.3"/>
<rect x="269.00" y="526.30" width="9.00" height="9.40" fill="#fff" stroke="#222" stroke-width="1.35" rx="1.3"/>
<text x="226.17" y="522.60" font-family="Liberation Sans, sans-serif" font-size="9.28" font-weight="bold" text-anchor="start" fill="#111" stroke="#111" stroke-width="0.15" textLength="4.55" lengthAdjust="spacingAndGlyphs">1</text>
<text x="270.83" y="522.60" font-family="Liberation Sans, sans-serif" font-size="9.28" font-weight="bold" text-anchor="start" fill="#111" stroke="#111" stroke-width="0.15" textLength="6.24" lengthAdjust="spacingAndGlyphs">4</text>
<path d="M231.1,551.9 H271.4 L276.9,560.0 V563.3 H289.6 Q291.6,563.3 291.6,567.2 Q291.6,571.1 289.6,571.1 H277.3 V598.3 V608.5 H269.5 V598.3 H262.7 V608.5 H254.4 V598.3 H247.6 V608.5 H239.4 V598.3 H232.1 V608.5 H224.8 V571.1 H212.2 Q210.2,571.1 210.2,567.2 Q210.2,563.3 212.2,563.3 H224.9 V560.0 Z" fill="#fff" stroke="#222" stroke-width="1.35"/>
<line x1="251.10" y1="518.00" x2="251.10" y2="527.50" stroke="#222" stroke-width="1.35"/>
<line x1="251.10" y1="530.50" x2="251.10" y2="546.00" stroke="#222" stroke-width="1.35"/>
<line x1="251.10" y1="550.00" x2="251.10" y2="557.50" stroke="#222" stroke-width="1.35"/>
<line x1="251.10" y1="561.50" x2="251.10" y2="573.00" stroke="#222" stroke-width="1.35"/>
<line x1="251.10" y1="577.00" x2="251.10" y2="597.00" stroke="#222" stroke-width="1.35"/>
<line x1="251.10" y1="601.00" x2="251.10" y2="620.00" stroke="#222" stroke-width="1.35"/>
<line x1="258.50" y1="525.00" x2="258.50" y2="541.00" stroke="#222" stroke-width="1.35"/>
<line x1="202.50" y1="567.20" x2="208.50" y2="567.20" stroke="#222" stroke-width="1.35"/>
<line x1="216.00" y1="567.20" x2="236.00" y2="567.20" stroke="#222" stroke-width="1.35"/>
<line x1="242.50" y1="567.20" x2="260.00" y2="567.20" stroke="#222" stroke-width="1.35"/>
<line x1="266.50" y1="567.20" x2="285.00" y2="567.20" stroke="#222" stroke-width="1.35"/>
<line x1="293.50" y1="567.20" x2="310.50" y2="567.20" stroke="#222" stroke-width="1.35"/>
<line x1="316.50" y1="567.20" x2="333.00" y2="567.20" stroke="#222" stroke-width="1.35"/>
<line x1="337.00" y1="567.20" x2="368.00" y2="567.20" stroke="#222" stroke-width="1.35"/>
<line x1="246.50" y1="567.20" x2="255.50" y2="567.20" stroke="#222" stroke-width="1.35"/>
<line x1="118.20" y1="551.80" x2="231.10" y2="551.80" stroke="#222" stroke-width="1.35"/>
<line x1="271.40" y1="551.80" x2="333.00" y2="551.80" stroke="#222" stroke-width="1.35"/>
<line x1="280.30" y1="535.70" x2="333.20" y2="535.70" stroke="#222" stroke-width="1.35"/>
<line x1="324.60" y1="519.30" x2="324.60" y2="535.20" stroke="#222" stroke-width="1.35"/>
<polygon points="324.60,535.20 321.30,523.20 324.60,525.20 327.90,523.20" fill="#222" stroke="#222" stroke-width="0.4"/>
<line x1="324.60" y1="567.00" x2="324.60" y2="552.30" stroke="#222" stroke-width="1.35"/>
<polygon points="324.60,552.30 327.90,564.30 324.60,562.30 321.30,564.30" fill="#222" stroke="#222" stroke-width="0.4"/>
<text x="319.67" y="549.70" font-family="Liberation Sans, sans-serif" font-size="15.8" font-weight="bold" text-anchor="start" fill="#111" stroke="#111" stroke-width="0.15">K</text>
<line x1="118.20" y1="599.20" x2="221.60" y2="599.20" stroke="#222" stroke-width="1.35"/>
<line x1="118.20" y1="608.50" x2="222.00" y2="608.50" stroke="#222" stroke-width="1.35"/>
<line x1="129.70" y1="569.00" x2="129.70" y2="552.30" stroke="#222" stroke-width="1.35"/>
<polygon points="129.70,552.30 133.00,564.30 129.70,562.30 126.40,564.30" fill="#222" stroke="#222" stroke-width="0.4"/>
<line x1="129.70" y1="583.00" x2="129.70" y2="598.70" stroke="#222" stroke-width="1.35"/>
<polygon points="129.70,598.70 126.40,586.70 129.70,588.70 133.00,586.70" fill="#222" stroke="#222" stroke-width="0.4"/>
<text x="119.02" y="580.40" font-family="Liberation Sans, sans-serif" font-size="15.0" font-weight="bold" text-anchor="start" fill="#111" stroke="#111" stroke-width="0.15" textLength="20.41" lengthAdjust="spacingAndGlyphs">E2</text>
<line x1="129.70" y1="638.10" x2="129.70" y2="609.00" stroke="#222" stroke-width="1.35"/>
<polygon points="129.70,609.00 133.00,621.00 129.70,619.00 126.40,621.00" fill="#222" stroke="#222" stroke-width="0.4"/>
<line x1="129.70" y1="638.10" x2="120.90" y2="638.10" stroke="#222" stroke-width="1.35"/>
<text x="104.84" y="643.74" font-family="Liberation Sans, sans-serif" font-size="15.63" font-weight="bold" text-anchor="start" fill="#111" stroke="#111" stroke-width="0.15" textLength="12.79" lengthAdjust="spacingAndGlyphs">G</text>
<line x1="184.40" y1="563.30" x2="206.00" y2="563.30" stroke="#222" stroke-width="1.35"/>
<line x1="184.40" y1="571.10" x2="206.00" y2="571.10" stroke="#222" stroke-width="1.35"/>
<line x1="188.90" y1="547.30" x2="188.90" y2="562.80" stroke="#222" stroke-width="1.35"/>
<polygon points="188.90,562.80 185.60,550.80 188.90,552.80 192.20,550.80" fill="#222" stroke="#222" stroke-width="0.4"/>
<line x1="188.90" y1="587.00" x2="188.90" y2="571.60" stroke="#222" stroke-width="1.35"/>
<polygon points="188.90,571.60 192.20,583.60 188.90,581.60 185.60,583.60" fill="#222" stroke="#222" stroke-width="0.4"/>
<line x1="188.90" y1="587.00" x2="179.00" y2="587.00" stroke="#222" stroke-width="1.35"/>
<text x="156.85" y="593.64" font-family="Liberation Sans, sans-serif" font-size="15.63" font-weight="bold" text-anchor="start" fill="#111" stroke="#111" stroke-width="0.15" textLength="19.77" lengthAdjust="spacingAndGlyphs">E3</text>
<line x1="294.00" y1="604.70" x2="368.00" y2="604.70" stroke="#222" stroke-width="1.35"/>
<line x1="280.70" y1="608.50" x2="317.60" y2="608.50" stroke="#222" stroke-width="1.35"/>
<line x1="308.10" y1="587.70" x2="308.10" y2="604.40" stroke="#222" stroke-width="1.35"/>
<polygon points="308.10,604.40 304.80,592.40 308.10,594.40 311.40,592.40" fill="#222" stroke="#222" stroke-width="0.4"/>
<line x1="308.10" y1="624.80" x2="308.10" y2="609.00" stroke="#222" stroke-width="1.35"/>
<polygon points="308.10,609.00 311.40,621.00 308.10,619.00 304.80,621.00" fill="#222" stroke="#222" stroke-width="0.4"/>
<line x1="308.10" y1="624.80" x2="317.20" y2="624.80" stroke="#222" stroke-width="1.35"/>
<text x="320.34" y="631.60" font-family="Liberation Sans, sans-serif" font-size="16.96" font-weight="bold" text-anchor="start" fill="#111" stroke="#111" stroke-width="0.15" textLength="17.15" lengthAdjust="spacingAndGlyphs">L1</text>
<line x1="355.80" y1="544.00" x2="355.80" y2="566.70" stroke="#222" stroke-width="1.35"/>
<polygon points="355.80,566.70 352.50,554.70 355.80,556.70 359.10,554.70" fill="#222" stroke="#222" stroke-width="0.4"/>
<line x1="355.80" y1="626.00" x2="355.80" y2="605.20" stroke="#222" stroke-width="1.35"/>
<polygon points="355.80,605.20 359.10,617.20 355.80,615.20 352.50,617.20" fill="#222" stroke="#222" stroke-width="0.4"/>
<text x="348.27" y="592.20" font-family="Liberation Sans, sans-serif" font-size="15.8" font-weight="bold" text-anchor="start" fill="#111" stroke="#111" stroke-width="0.15" textLength="14.52" lengthAdjust="spacingAndGlyphs">M</text>
<text x="226.54" y="620.30" font-family="Liberation Sans, sans-serif" font-size="9.86" font-weight="bold" text-anchor="start" fill="#111" stroke="#111" stroke-width="0.15" textLength="6.74" lengthAdjust="spacingAndGlyphs">8</text>
<text x="269.65" y="620.30" font-family="Liberation Sans, sans-serif" font-size="10.0" font-weight="bold" text-anchor="start" fill="#111" stroke="#111" stroke-width="0.15" textLength="6.45" lengthAdjust="spacingAndGlyphs">5</text>
<line x1="225.10" y1="612.00" x2="225.10" y2="643.40" stroke="#222" stroke-width="1.35"/>
<line x1="276.60" y1="612.00" x2="276.60" y2="643.40" stroke="#222" stroke-width="1.35"/>
<line x1="208.00" y1="634.50" x2="224.60" y2="634.50" stroke="#222" stroke-width="1.35"/>
<polygon points="224.60,634.50 212.60,637.80 214.60,634.50 212.60,631.20" fill="#222" stroke="#222" stroke-width="0.4"/>
<line x1="295.40" y1="634.50" x2="277.10" y2="634.50" stroke="#222" stroke-width="1.35"/>
<polygon points="277.10,634.50 289.10,631.20 287.10,634.50 289.10,637.80" fill="#222" stroke="#222" stroke-width="0.4"/>
<text x="241.93" y="641.10" font-family="Liberation Sans, sans-serif" font-size="15.57" font-weight="bold" text-anchor="start" fill="#111" stroke="#111" stroke-width="0.15" textLength="20.98" lengthAdjust="spacingAndGlyphs">D2</text>
<text x="196.16" y="660.85" font-family="Liberation Sans, sans-serif" font-size="14.51" font-weight="bold" text-anchor="start" fill="#111" stroke="#111" stroke-width="0.15" textLength="114.19" lengthAdjust="spacingAndGlyphs">BOTTOM VIEW</text>
<text x="693.85" y="470.82" font-family="Liberation Sans, sans-serif" font-size="18.03" font-weight="bold" text-anchor="start" fill="#111" stroke="#111" stroke-width="0.15" textLength="226.53" lengthAdjust="spacingAndGlyphs">SOLDERING FOOTPRINT*</text>
<rect x="751.70" y="541.30" width="16.80" height="30.20" fill="none" stroke="#222" stroke-width="1.35"/>
<rect x="778.30" y="541.30" width="16.80" height="30.20" fill="none" stroke="#222" stroke-width="1.35"/>
<rect x="805.20" y="541.30" width="16.80" height="30.20" fill="none" stroke="#222" stroke-width="1.35"/>
<rect x="831.70" y="541.30" width="16.80" height="30.20" fill="none" stroke="#222" stroke-width="1.35"/>
<line x1="751.70" y1="494.00" x2="751.70" y2="537.60" stroke="#222" stroke-width="1.35"/>
<line x1="768.30" y1="494.00" x2="768.30" y2="537.60" stroke="#222" stroke-width="1.35"/>
<line x1="731.70" y1="501.10" x2="751.20" y2="501.10" stroke="#222" stroke-width="1.35"/>
<polygon points="751.20,501.10 739.20,504.40 741.20,501.10 739.20,497.80" fill="#222" stroke="#222" stroke-width="0.4"/>
<line x1="783.50" y1="501.10" x2="768.80" y2="501.10" stroke="#222" stroke-width="1.35"/>
<polygon points="768.80,501.10 780.80,497.80 778.80,501.10 780.80,504.40" fill="#222" stroke="#222" stroke-width="0.4"/>
<text x="702.45" y="491.78" font-family="Liberation Sans, sans-serif" font-size="12.11" text-anchor="start" fill="#111" stroke="#111" stroke-width="0.2">8X</text>
<text x="698.84" y="505.14" font-family="Liberation Sans, sans-serif" font-size="15.92" text-anchor="start" fill="#111" stroke="#111" stroke-width="0.2" textLength="32.00" lengthAdjust="spacingAndGlyphs">0.42</text>
<line x1="813.70" y1="494.00" x2="813.70" y2="579.30" stroke="#222" stroke-width="1.35"/>
<line x1="840.20" y1="494.00" x2="840.20" y2="579.30" stroke="#222" stroke-width="1.35"/>
<line x1="794.60" y1="501.10" x2="813.20" y2="501.10" stroke="#222" stroke-width="1.35"/>
<polygon points="813.20,501.10 801.20,504.40 803.20,501.10 801.20,497.80" fill="#222" stroke="#222" stroke-width="0.4"/>
<line x1="856.70" y1="501.10" x2="840.70" y2="501.10" stroke="#222" stroke-width="1.35"/>
<polygon points="840.70,501.10 852.70,497.80 850.70,501.10 852.70,504.40" fill="#222" stroke="#222" stroke-width="0.4"/>
<text x="861.05" y="505.14" font-family="Liberation Sans, sans-serif" font-size="15.63" text-anchor="start" fill="#111" stroke="#111" stroke-width="0.2" textLength="31.52" lengthAdjust="spacingAndGlyphs">0.65</text>
<text x="860.38" y="519.54" font-family="Liberation Sans, sans-serif" font-size="16.06" text-anchor="start" fill="#111" stroke="#111" stroke-width="0.2" textLength="49.54" lengthAdjust="spacingAndGlyphs">PITCH</text>
<text x="931.60" y="508.90" font-family="Liberation Sans, sans-serif" font-size="12.75" text-anchor="start" fill="#111" stroke="#111" stroke-width="0.2" textLength="14.68" lengthAdjust="spacingAndGlyphs">4X</text>
<text x="929.33" y="524.44" font-family="Liberation Sans, sans-serif" font-size="15.63" text-anchor="start" fill="#111" stroke="#111" stroke-width="0.2" textLength="32.44" lengthAdjust="spacingAndGlyphs">0.66</text>
<line x1="927.80" y1="519.10" x2="922.30" y2="519.10" stroke="#222" stroke-width="1.35"/>
<line x1="922.30" y1="519.10" x2="922.30" y2="540.80" stroke="#222" stroke-width="1.35"/>
<polygon points="922.30,540.80 919.00,528.80 922.30,530.80 925.60,528.80" fill="#222" stroke="#222" stroke-width="0.4"/>
<line x1="851.80" y1="541.30" x2="951.60" y2="541.30" stroke="#222" stroke-width="1.35"/>
<line x1="851.80" y1="570.70" x2="929.80" y2="570.70" stroke="#222" stroke-width="1.35"/>
<line x1="922.50" y1="590.70" x2="922.50" y2="571.20" stroke="#222" stroke-width="1.35"/>
<polygon points="922.50,571.20 925.80,583.20 922.50,581.20 919.20,583.20" fill="#222" stroke="#222" stroke-width="0.4"/>
<line x1="727.90" y1="548.60" x2="873.00" y2="548.60" stroke="#222" stroke-width="1.35" stroke-dasharray="10.46,4.5"/>
<line x1="873.00" y1="548.60" x2="873.00" y2="697.90" stroke="#222" stroke-width="1.35" stroke-dasharray="9.48,4.5"/>
<line x1="873.00" y1="697.90" x2="727.90" y2="697.90" stroke="#222" stroke-width="1.35" stroke-dasharray="10.46,4.5"/>
<line x1="727.90" y1="697.90" x2="727.90" y2="548.60" stroke="#222" stroke-width="1.35" stroke-dasharray="9.48,4.5"/>
<line x1="800.80" y1="533.90" x2="800.80" y2="610.00" stroke="#222" stroke-width="1.35"/>
<line x1="800.80" y1="617.00" x2="800.80" y2="627.50" stroke="#222" stroke-width="1.35"/>
<line x1="800.80" y1="633.00" x2="800.80" y2="713.00" stroke="#222" stroke-width="1.35"/>
<line x1="713.40" y1="622.30" x2="787.60" y2="622.30" stroke="#222" stroke-width="1.35"/>
<line x1="797.80" y1="622.30" x2="803.90" y2="622.30" stroke="#222" stroke-width="1.35"/>
<line x1="814.80" y1="622.30" x2="889.20" y2="622.30" stroke="#222" stroke-width="1.35"/>
<path d="M752,596.9 H848.2 V609.4 H878.3 V635.4 H848.2 V705.2 H832.6 V691.9 H821 V705.2 H805.6 V691.9 H794 V705.2 H779.1 V691.9 H767.6 V705.2 H752 V635.4 H722.6 V609.4 H752 Z" fill="none" stroke="#222" stroke-width="1.35"/>
<line x1="646.00" y1="596.90" x2="746.00" y2="596.90" stroke="#222" stroke-width="1.35"/>
<line x1="683.30" y1="609.40" x2="717.00" y2="609.40" stroke="#222" stroke-width="1.35"/>
<line x1="646.00" y1="635.40" x2="717.00" y2="635.40" stroke="#222" stroke-width="1.35"/>
<line x1="658.00" y1="576.00" x2="658.00" y2="596.40" stroke="#222" stroke-width="1.35"/>
<polygon points="658.00,596.40 654.70,584.40 658.00,586.40 661.30,584.40" fill="#222" stroke="#222" stroke-width="0.4"/>
<line x1="708.90" y1="590.00" x2="708.90" y2="608.90" stroke="#222" stroke-width="1.35"/>
<polygon points="708.90,608.90 705.60,596.90 708.90,598.90 712.20,596.90" fill="#222" stroke="#222" stroke-width="0.4"/>
<line x1="658.90" y1="660.70" x2="658.90" y2="635.90" stroke="#222" stroke-width="1.35"/>
<polygon points="658.90,635.90 662.20,647.90 658.90,645.90 655.60,647.90" fill="#222" stroke="#222" stroke-width="0.4"/>
<line x1="658.90" y1="660.70" x2="650.40" y2="660.70" stroke="#222" stroke-width="1.35"/>
<line x1="708.90" y1="657.50" x2="708.90" y2="635.90" stroke="#222" stroke-width="1.35"/>
<polygon points="708.90,635.90 712.20,647.90 708.90,645.90 705.60,647.90" fill="#222" stroke="#222" stroke-width="0.4"/>
<line x1="708.90" y1="657.50" x2="703.40" y2="657.50" stroke="#222" stroke-width="1.35"/>
<text x="617.15" y="663.55" font-family="Liberation Sans, sans-serif" font-size="14.65" text-anchor="start" fill="#111" stroke="#111" stroke-width="0.2" textLength="31.62" lengthAdjust="spacingAndGlyphs">0.75</text>
<text x="670.16" y="662.85" font-family="Liberation Sans, sans-serif" font-size="14.65" text-anchor="start" fill="#111" stroke="#111" stroke-width="0.2" textLength="31.37" lengthAdjust="spacingAndGlyphs">0.57</text>
<line x1="703.00" y1="691.90" x2="761.60" y2="691.90" stroke="#222" stroke-width="1.35"/>
<line x1="703.00" y1="705.20" x2="746.00" y2="705.20" stroke="#222" stroke-width="1.35"/>
<line x1="713.40" y1="677.80" x2="713.40" y2="691.40" stroke="#222" stroke-width="1.35"/>
<polygon points="713.40,691.40 710.10,679.40 713.40,681.40 716.70,679.40" fill="#222" stroke="#222" stroke-width="0.4"/>
<line x1="713.50" y1="720.00" x2="713.50" y2="705.70" stroke="#222" stroke-width="1.35"/>
<polygon points="713.50,705.70 716.80,717.70 713.50,715.70 710.20,717.70" fill="#222" stroke="#222" stroke-width="0.4"/>
<line x1="713.50" y1="720.00" x2="708.10" y2="720.00" stroke="#222" stroke-width="1.35"/>
<text x="674.98" y="724.25" font-family="Liberation Sans, sans-serif" font-size="14.65" text-anchor="start" fill="#111" stroke="#111" stroke-width="0.2" textLength="30.22" lengthAdjust="spacingAndGlyphs">0.47</text>
<line x1="856.30" y1="597.00" x2="918.00" y2="597.00" stroke="#222" stroke-width="1.35"/>
<line x1="851.20" y1="704.70" x2="951.40" y2="704.70" stroke="#222" stroke-width="1.35"/>
<line x1="909.10" y1="642.70" x2="909.10" y2="597.50" stroke="#222" stroke-width="1.35"/>
<polygon points="909.10,597.50 912.40,609.50 909.10,607.50 905.80,609.50" fill="#222" stroke="#222" stroke-width="0.4"/>
<line x1="909.10" y1="660.20" x2="909.10" y2="704.20" stroke="#222" stroke-width="1.35"/>
<polygon points="909.10,704.20 905.80,692.20 909.10,694.20 912.40,692.20" fill="#222" stroke="#222" stroke-width="0.4"/>
<text x="892.37" y="655.74" font-family="Liberation Sans, sans-serif" font-size="15.77" text-anchor="start" fill="#111" stroke="#111" stroke-width="0.2" textLength="32.21" lengthAdjust="spacingAndGlyphs">2.30</text>
<line x1="938.70" y1="611.20" x2="938.70" y2="541.80" stroke="#222" stroke-width="1.35"/>
<polygon points="938.70,541.80 942.00,553.80 938.70,551.80 935.40,553.80" fill="#222" stroke="#222" stroke-width="0.4"/>
<line x1="938.70" y1="636.50" x2="938.70" y2="704.20" stroke="#222" stroke-width="1.35"/>
<polygon points="938.70,704.20 935.40,692.20 938.70,694.20 942.00,692.20" fill="#222" stroke="#222" stroke-width="0.4"/>
<text x="922.24" y="628.94" font-family="Liberation Sans, sans-serif" font-size="15.92" text-anchor="start" fill="#111" stroke="#111" stroke-width="0.2" textLength="32.25" lengthAdjust="spacingAndGlyphs">3.60</text>
<line x1="752.00" y1="708.00" x2="752.00" y2="734.80" stroke="#222" stroke-width="1.35"/>
<line x1="848.20" y1="708.00" x2="848.20" y2="734.80" stroke="#222" stroke-width="1.35"/>
<line x1="722.60" y1="637.00" x2="722.60" y2="755.20" stroke="#222" stroke-width="1.35"/>
<line x1="878.30" y1="637.00" x2="878.30" y2="755.20" stroke="#222" stroke-width="1.35"/>
<line x1="779.30" y1="727.50" x2="752.50" y2="727.50" stroke="#222" stroke-width="1.35"/>
<polygon points="752.50,727.50 764.50,724.20 762.50,727.50 764.50,730.80" fill="#222" stroke="#222" stroke-width="0.4"/>
<line x1="818.50" y1="727.50" x2="847.70" y2="727.50" stroke="#222" stroke-width="1.35"/>
<polygon points="847.70,727.50 835.70,730.80 837.70,727.50 835.70,724.20" fill="#222" stroke="#222" stroke-width="0.4"/>
<text x="782.86" y="730.74" font-family="Liberation Sans, sans-serif" font-size="16.2" text-anchor="start" fill="#111" stroke="#111" stroke-width="0.2" textLength="32.81" lengthAdjust="spacingAndGlyphs">2.37</text>
<line x1="776.30" y1="747.60" x2="723.10" y2="747.60" stroke="#222" stroke-width="1.35"/>
<polygon points="723.10,747.60 735.10,744.30 733.10,747.60 735.10,750.90" fill="#222" stroke="#222" stroke-width="0.4"/>
<line x1="823.00" y1="747.60" x2="877.80" y2="747.60" stroke="#222" stroke-width="1.35"/>
<polygon points="877.80,747.60 865.80,750.90 867.80,747.60 865.80,744.30" fill="#222" stroke="#222" stroke-width="0.4"/>
<text x="783.43" y="751.14" font-family="Liberation Sans, sans-serif" font-size="15.77" text-anchor="start" fill="#111" stroke="#111" stroke-width="0.2" textLength="32.54" lengthAdjust="spacingAndGlyphs">3.46</text>
<text x="642.02" y="530.19" font-family="Liberation Sans, sans-serif" font-size="11.13" text-anchor="start" fill="#111" stroke="#111" stroke-width="0.2" textLength="58.38" lengthAdjust="spacingAndGlyphs">PACKAGE</text>
<text x="642.45" y="541.29" font-family="Liberation Sans, sans-serif" font-size="11.13" text-anchor="start" fill="#111" stroke="#111" stroke-width="0.2" textLength="53.40" lengthAdjust="spacingAndGlyphs">OUTLINE</text>
<line x1="696.60" y1="538.10" x2="727.20" y2="560.80" stroke="#222" stroke-width="1.35"/>
<polygon points="727.20,560.80 715.60,556.30 719.17,554.84 719.53,551.00" fill="#222" stroke="#222" stroke-width="0.4"/>
<text x="899.00" y="772.00" font-family="Liberation Sans, sans-serif" font-size="12.1" text-anchor="middle" fill="#111" stroke="#111" stroke-width="0.2">DIMENSION: MILLIMETERS</text>
</svg>
</body></html>
